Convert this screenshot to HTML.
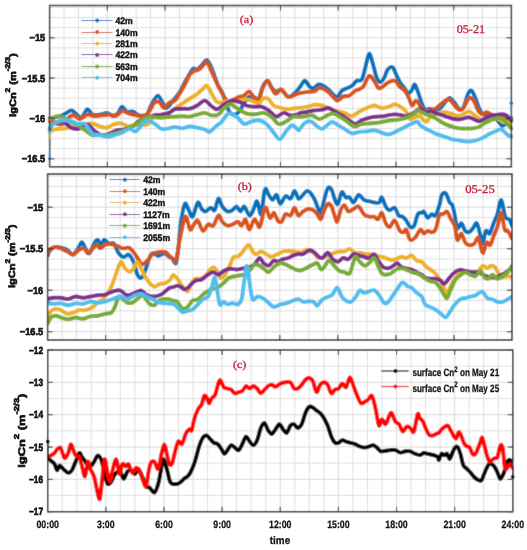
<!DOCTYPE html>
<html><head><meta charset="utf-8"><title>Cn2 time series</title>
<style>html,body{margin:0;padding:0;background:#fff;}body{width:527px;height:550px;overflow:hidden;}svg{display:block;}</style>
</head><body>
<svg width="527" height="550" viewBox="0 0 527 550">
<style>
.gm{stroke:#dedede;stroke-width:1}
.gM{stroke:#d8d8d8;stroke-width:1}
.fr{fill:none;stroke:#262626;stroke-width:1.5}
.tk{stroke:#262626;stroke-width:1.1}
text{text-rendering:geometricPrecision;font-family:"Liberation Sans",Arial,sans-serif;font-weight:bold;fill:#111;stroke:#111;stroke-width:0.65}
.lg{stroke-width:0.4}
.lt{stroke-width:0.25}
.ann{font-family:"Liberation Serif","Times New Roman",serif;font-weight:normal;fill:#c41e3a;stroke:#c41e3a;stroke-width:0.3}
</style>
<rect width="527" height="550" fill="#fff"/>
<filter id="bl" filterUnits="userSpaceOnUse" x="0" y="0" width="527" height="550"><feConvolveMatrix order="3" kernelMatrix="0.0144 0.0912 0.0144 0.0912 0.5776 0.0912 0.0144 0.0912 0.0144" edgeMode="duplicate" preserveAlpha="true"/></filter><g filter="url(#bl)"><rect width="527" height="550" fill="#fff"/>
<line x1="64.03" y1="5.50" x2="64.03" y2="166.80" class="gm"/>
<line x1="78.46" y1="5.50" x2="78.46" y2="166.80" class="gm"/>
<line x1="92.89" y1="5.50" x2="92.89" y2="166.80" class="gm"/>
<line x1="107.32" y1="5.50" x2="107.32" y2="166.80" class="gM"/>
<line x1="121.76" y1="5.50" x2="121.76" y2="166.80" class="gm"/>
<line x1="136.19" y1="5.50" x2="136.19" y2="166.80" class="gm"/>
<line x1="150.62" y1="5.50" x2="150.62" y2="166.80" class="gm"/>
<line x1="165.05" y1="5.50" x2="165.05" y2="166.80" class="gM"/>
<line x1="179.48" y1="5.50" x2="179.48" y2="166.80" class="gm"/>
<line x1="193.91" y1="5.50" x2="193.91" y2="166.80" class="gm"/>
<line x1="208.34" y1="5.50" x2="208.34" y2="166.80" class="gm"/>
<line x1="222.77" y1="5.50" x2="222.77" y2="166.80" class="gM"/>
<line x1="237.21" y1="5.50" x2="237.21" y2="166.80" class="gm"/>
<line x1="251.64" y1="5.50" x2="251.64" y2="166.80" class="gm"/>
<line x1="266.07" y1="5.50" x2="266.07" y2="166.80" class="gm"/>
<line x1="280.50" y1="5.50" x2="280.50" y2="166.80" class="gM"/>
<line x1="294.93" y1="5.50" x2="294.93" y2="166.80" class="gm"/>
<line x1="309.36" y1="5.50" x2="309.36" y2="166.80" class="gm"/>
<line x1="323.79" y1="5.50" x2="323.79" y2="166.80" class="gm"/>
<line x1="338.23" y1="5.50" x2="338.23" y2="166.80" class="gM"/>
<line x1="352.66" y1="5.50" x2="352.66" y2="166.80" class="gm"/>
<line x1="367.09" y1="5.50" x2="367.09" y2="166.80" class="gm"/>
<line x1="381.52" y1="5.50" x2="381.52" y2="166.80" class="gm"/>
<line x1="395.95" y1="5.50" x2="395.95" y2="166.80" class="gM"/>
<line x1="410.38" y1="5.50" x2="410.38" y2="166.80" class="gm"/>
<line x1="424.81" y1="5.50" x2="424.81" y2="166.80" class="gm"/>
<line x1="439.24" y1="5.50" x2="439.24" y2="166.80" class="gm"/>
<line x1="453.67" y1="5.50" x2="453.67" y2="166.80" class="gM"/>
<line x1="468.11" y1="5.50" x2="468.11" y2="166.80" class="gm"/>
<line x1="482.54" y1="5.50" x2="482.54" y2="166.80" class="gm"/>
<line x1="496.97" y1="5.50" x2="496.97" y2="166.80" class="gm"/>
<line x1="49.60" y1="158.73" x2="511.40" y2="158.73" class="gM"/>
<line x1="49.60" y1="148.65" x2="511.40" y2="148.65" class="gm"/>
<line x1="49.60" y1="138.57" x2="511.40" y2="138.57" class="gm"/>
<line x1="49.60" y1="128.49" x2="511.40" y2="128.49" class="gm"/>
<line x1="49.60" y1="118.41" x2="511.40" y2="118.41" class="gM"/>
<line x1="49.60" y1="108.33" x2="511.40" y2="108.33" class="gm"/>
<line x1="49.60" y1="98.25" x2="511.40" y2="98.25" class="gm"/>
<line x1="49.60" y1="88.17" x2="511.40" y2="88.17" class="gm"/>
<line x1="49.60" y1="78.08" x2="511.40" y2="78.08" class="gM"/>
<line x1="49.60" y1="68.00" x2="511.40" y2="68.00" class="gm"/>
<line x1="49.60" y1="57.92" x2="511.40" y2="57.92" class="gm"/>
<line x1="49.60" y1="47.84" x2="511.40" y2="47.84" class="gm"/>
<line x1="49.60" y1="37.76" x2="511.40" y2="37.76" class="gM"/>
<line x1="49.60" y1="27.68" x2="511.40" y2="27.68" class="gm"/>
<line x1="49.60" y1="17.60" x2="511.40" y2="17.60" class="gm"/>
<line x1="49.60" y1="7.52" x2="511.40" y2="7.52" class="gm"/>
<defs><clipPath id="ca"><rect x="47.6" y="5.5" width="465.8" height="161.3"/></clipPath><clipPath id="cb"><rect x="47.6" y="174" width="464.4" height="166"/></clipPath><clipPath id="cc"><rect x="47.7" y="350" width="465.1" height="161.7"/></clipPath></defs>
<line x1="81.60" y1="20.50" x2="112.50" y2="20.50" stroke="#0072BD" stroke-width="1.00"/>
<circle cx="97.20" cy="20.60" r="2.00" fill="#0072BD"/>
<line x1="81.60" y1="32.50" x2="112.50" y2="32.50" stroke="#D95319" stroke-width="1.00"/>
<circle cx="97.20" cy="32.05" r="2.00" fill="#D95319"/>
<line x1="81.60" y1="43.50" x2="112.50" y2="43.50" stroke="#EDB120" stroke-width="1.00"/>
<circle cx="97.20" cy="43.50" r="2.00" fill="#EDB120"/>
<line x1="81.60" y1="54.50" x2="112.50" y2="54.50" stroke="#7E2F8E" stroke-width="1.00"/>
<circle cx="97.20" cy="54.95" r="2.00" fill="#7E2F8E"/>
<line x1="81.60" y1="66.50" x2="112.50" y2="66.50" stroke="#77AC30" stroke-width="1.00"/>
<circle cx="97.20" cy="66.40" r="2.00" fill="#77AC30"/>
<line x1="81.60" y1="77.50" x2="112.50" y2="77.50" stroke="#4DBEEE" stroke-width="1.00"/>
<circle cx="97.20" cy="77.85" r="2.00" fill="#4DBEEE"/>
<g clip-path="url(#ca)">
<path d="M49.6,118.5 C50.2,118.4 51.2,118.2 53.0,117.8 C54.8,117.4 58.0,116.8 60.3,116.0 C62.5,115.2 64.7,113.8 66.5,112.9 C68.3,112.0 69.8,110.2 71.4,110.4 C73.1,110.6 74.8,112.9 76.4,114.1 C78.1,115.3 79.5,118.6 81.3,117.8 C83.1,117.0 85.7,109.7 87.5,109.2 C89.3,108.7 90.4,113.7 92.4,114.6 C94.5,115.5 97.3,114.9 99.8,114.6 C102.3,114.3 104.9,112.7 107.2,112.9 C109.5,113.2 111.6,116.1 113.4,116.1 C115.2,116.1 116.9,114.5 118.3,112.9 C119.7,111.3 120.5,106.9 122.0,106.7 C123.5,106.5 125.2,110.9 127.0,111.7 C128.8,112.5 131.0,111.1 133.1,111.7 C135.2,112.3 137.0,114.9 139.3,115.4 C141.6,115.9 144.6,116.4 146.7,114.6 C148.8,112.8 149.8,107.5 151.6,104.3 C153.4,101.1 156.0,95.8 157.8,95.6 C159.7,95.4 161.3,100.9 162.7,103.0 C164.1,105.1 165.0,108.0 166.4,108.0 C167.8,108.0 169.9,104.7 171.3,103.0 C172.7,101.3 173.6,99.9 175.0,98.1 C176.4,96.2 178.2,94.6 179.9,91.9 C181.6,89.2 183.2,85.2 184.9,82.1 C186.6,79.0 188.4,75.7 189.8,73.4 C191.2,71.1 192.3,69.1 193.5,68.5 C194.7,67.9 195.8,70.3 197.2,69.7 C198.6,69.1 200.5,66.4 202.1,64.8 C203.7,63.2 205.1,59.7 206.6,59.9 C208.1,60.1 209.5,63.3 210.8,66.0 C212.1,68.7 213.3,72.6 214.5,75.9 C215.7,79.2 217.0,83.1 218.2,85.8 C219.4,88.5 220.7,89.2 221.9,91.9 C223.1,94.6 224.4,98.5 225.6,101.8 C226.8,105.1 227.9,109.6 229.3,111.7 C230.7,113.8 232.6,114.6 234.2,114.6 C235.8,114.6 237.4,113.6 239.1,111.7 C240.8,109.8 242.4,105.5 244.1,103.0 C245.8,100.5 247.4,97.7 249.0,96.9 C250.6,96.1 252.2,97.9 253.9,98.1 C255.6,98.3 257.4,99.9 258.9,98.1 C260.3,96.2 261.2,89.9 262.6,87.0 C264.0,84.1 266.1,80.8 267.5,80.8 C268.9,80.8 269.8,85.2 271.2,87.0 C272.6,88.8 274.5,91.5 276.1,91.9 C277.8,92.3 279.0,88.7 281.1,89.5 C283.2,90.3 286.0,96.5 288.5,96.9 C291.0,97.3 293.8,93.8 295.9,91.9 C297.9,90.1 299.3,87.7 300.8,85.8 C302.3,83.9 303.4,80.6 304.9,80.8 C306.4,81.0 308.4,85.8 309.9,87.0 C311.3,88.2 312.2,88.6 313.6,88.2 C315.0,87.8 316.9,84.9 318.5,84.5 C320.1,84.1 321.8,85.0 323.4,85.8 C325.0,86.6 326.9,88.3 328.4,89.5 C329.8,90.7 330.7,92.0 332.1,93.2 C333.5,94.4 335.4,97.3 337.0,96.9 C338.6,96.5 340.2,92.2 341.9,90.7 C343.5,89.2 345.2,89.0 346.9,88.2 C348.5,87.4 350.2,87.0 351.8,85.8 C353.4,84.6 355.1,81.8 356.7,80.8 C358.3,79.8 360.2,81.8 361.7,79.6 C363.1,77.3 364.2,71.6 365.4,67.3 C366.6,63.0 367.9,54.3 369.1,53.7 C370.3,53.1 371.6,59.7 372.8,63.6 C374.0,67.5 375.3,74.0 376.5,77.1 C377.7,80.2 379.0,81.9 380.2,82.1 C381.4,82.3 382.7,80.5 383.9,78.4 C385.1,76.3 386.2,71.6 387.6,69.7 C389.0,67.8 391.1,66.5 392.5,67.3 C393.9,68.1 395.0,72.2 396.2,74.7 C397.4,77.2 398.7,80.0 399.9,82.1 C401.1,84.1 402.2,85.2 403.6,87.0 C405.0,88.8 407.1,92.8 408.5,93.2 C409.9,93.6 411.2,91.0 412.2,89.5 C413.2,88.0 413.7,83.9 414.7,84.5 C415.7,85.1 417.2,89.9 418.4,93.2 C419.6,96.5 420.9,101.4 422.1,104.3 C423.3,107.2 424.7,109.7 425.8,110.4 C426.9,111.1 427.6,108.8 429.0,108.7 C430.4,108.6 432.6,109.6 434.4,109.6 C436.2,109.6 438.0,109.9 439.8,108.7 C441.6,107.5 443.6,104.2 445.2,102.4 C446.8,100.6 448.2,97.9 449.7,97.9 C451.2,97.9 452.8,100.7 454.3,102.4 C455.8,104.1 457.3,107.4 458.8,108.3 C460.3,109.2 461.8,110.1 463.3,107.8 C464.8,105.5 466.5,97.2 467.8,94.3 C469.1,91.4 470.2,90.1 471.4,90.6 C472.6,91.0 473.8,94.3 475.0,97.0 C476.2,99.7 477.4,104.1 478.6,106.9 C479.8,109.8 480.9,112.9 482.2,114.1 C483.5,115.3 485.0,113.9 486.7,114.1 C488.4,114.2 490.3,114.0 492.1,115.0 C493.9,116.0 495.9,118.6 497.5,120.4 C499.1,122.2 500.6,125.2 502.0,125.8 C503.4,126.4 504.4,125.0 505.6,124.0 C506.8,123.0 508.2,120.5 509.2,119.5 C510.2,118.5 511.0,118.2 511.4,118.0" fill="none" stroke="#0072BD" stroke-width="3.90" stroke-linejoin="round" stroke-linecap="round"/>
<path d="M49.6,119.8 C50.2,120.1 51.7,120.8 53.0,121.5 C54.3,122.2 55.9,123.6 57.5,124.0 C59.1,124.4 61.3,124.7 62.8,124.0 C64.3,123.3 65.3,121.2 66.5,120.0 C67.7,118.8 68.7,117.3 70.0,116.5 C71.3,115.7 72.8,115.0 74.5,115.4 C76.2,115.8 77.8,119.1 80.0,119.0 C82.2,118.9 85.0,115.1 87.5,114.6 C90.0,114.1 92.4,116.0 94.9,116.1 C97.4,116.2 99.8,115.7 102.3,115.4 C104.8,115.2 107.2,114.6 109.7,114.6 C112.2,114.6 115.0,116.0 117.0,115.4 C119.0,114.8 119.9,111.5 122.0,111.2 C124.1,110.9 126.9,112.9 129.4,113.6 C131.9,114.3 134.3,115.0 136.8,115.4 C139.3,115.8 142.1,116.7 144.2,116.1 C146.2,115.5 147.4,113.9 149.1,111.7 C150.8,109.5 152.4,104.7 154.1,103.0 C155.8,101.3 157.3,101.0 159.0,101.8 C160.7,102.6 162.3,107.8 164.0,108.0 C165.7,108.2 167.1,104.2 168.9,103.0 C170.7,101.8 173.2,102.2 175.0,100.6 C176.8,99.0 178.2,95.9 179.9,93.2 C181.6,90.5 183.2,87.6 184.9,84.5 C186.6,81.4 188.2,77.0 189.8,74.7 C191.4,72.5 193.0,71.9 194.7,71.0 C196.3,70.1 198.0,70.4 199.7,69.2 C201.3,68.0 203.4,64.8 204.6,63.6 C205.8,62.5 206.1,61.3 207.1,62.3 C208.1,63.3 209.4,66.6 210.8,69.7 C212.2,72.8 214.3,77.7 215.7,80.8 C217.1,83.9 218.0,85.5 219.4,88.2 C220.8,90.9 222.9,94.6 224.3,96.9 C225.7,99.2 226.3,101.4 228.0,101.8 C229.7,102.2 232.3,100.1 234.2,99.3 C236.0,98.5 237.4,97.5 239.1,96.9 C240.8,96.3 242.4,96.5 244.1,95.6 C245.8,94.7 247.4,91.2 249.0,91.4 C250.6,91.6 252.2,95.6 253.9,96.9 C255.6,98.2 257.4,100.8 258.9,99.3 C260.3,97.8 261.2,91.3 262.6,88.2 C264.0,85.1 265.9,80.6 267.5,80.8 C269.1,81.0 271.0,87.3 272.4,89.5 C273.8,91.7 274.7,93.9 276.1,93.9 C277.6,93.9 279.0,89.0 281.1,89.5 C283.2,90.0 286.0,96.1 288.5,96.9 C291.0,97.7 294.0,95.0 295.9,94.4 C297.8,93.8 298.1,93.6 300.0,93.2 C301.9,92.8 304.9,92.2 307.4,91.9 C309.9,91.6 312.9,92.0 314.8,91.4 C316.7,90.8 316.9,88.5 318.5,88.2 C320.1,87.9 322.8,88.7 324.7,89.5 C326.6,90.3 327.6,91.4 329.6,93.2 C331.7,95.0 334.7,100.1 337.0,100.6 C339.3,101.1 341.1,97.2 343.2,96.4 C345.2,95.6 347.2,96.5 349.3,95.6 C351.4,94.6 353.2,92.1 355.5,90.7 C357.8,89.3 360.6,89.5 362.9,87.0 C365.2,84.5 367.2,76.9 369.1,75.9 C371.0,74.9 372.4,78.8 374.0,80.8 C375.6,82.8 377.2,87.4 378.9,88.2 C380.5,89.0 382.2,86.8 383.9,85.8 C385.5,84.8 386.9,82.9 388.8,82.1 C390.7,81.3 393.1,80.0 395.0,80.8 C396.9,81.6 398.3,85.3 399.9,87.0 C401.5,88.7 403.4,89.0 404.8,90.7 C406.2,92.4 407.3,94.4 408.5,96.9 C409.7,99.4 411.0,104.9 412.2,105.5 C413.4,106.1 414.4,100.4 415.9,100.6 C417.3,100.8 419.6,105.0 420.9,106.7 C422.2,108.4 422.2,109.9 423.6,110.5 C425.0,111.1 427.2,110.7 429.0,110.5 C430.8,110.3 432.6,110.5 434.4,109.6 C436.2,108.7 438.0,106.6 439.8,105.1 C441.6,103.6 443.6,101.5 445.2,100.6 C446.8,99.7 448.2,99.0 449.7,99.7 C451.2,100.5 452.8,103.4 454.3,105.1 C455.8,106.8 457.3,109.1 458.8,109.6 C460.3,110.1 461.8,109.9 463.3,108.3 C464.8,106.7 466.5,101.4 467.8,99.7 C469.1,98.0 470.2,97.3 471.4,97.9 C472.6,98.5 473.8,101.0 475.0,103.3 C476.2,105.5 477.4,109.6 478.6,111.4 C479.8,113.2 480.9,113.9 482.2,114.1 C483.5,114.2 485.0,112.1 486.7,112.3 C488.4,112.5 490.3,114.4 492.1,115.0 C493.9,115.6 495.7,115.5 497.5,115.9 C499.3,116.4 501.1,116.8 502.9,117.7 C504.7,118.6 506.9,121.0 508.3,121.3 C509.7,121.6 510.9,119.8 511.4,119.5" fill="none" stroke="#D95319" stroke-width="3.90" stroke-linejoin="round" stroke-linecap="round"/>
<path d="M49.6,131.4 C50.6,131.1 52.8,129.9 55.4,129.4 C58.0,128.9 62.0,128.8 65.3,128.4 C68.6,128.0 71.8,127.7 75.1,127.0 C78.4,126.3 82.1,124.6 85.0,124.0 C87.9,123.4 89.9,123.1 92.4,123.5 C94.9,123.9 97.3,125.8 99.8,126.5 C102.3,127.2 105.2,128.0 107.2,127.7 C109.2,127.5 110.0,125.8 112.0,125.0 C114.0,124.2 117.4,123.3 119.4,123.2 C121.5,123.1 122.9,124.0 124.3,124.5 C125.7,125.0 126.4,126.1 128.0,126.3 C129.6,126.5 132.0,125.7 134.0,125.5 C136.0,125.3 138.1,125.1 140.0,125.0 C141.9,124.9 143.9,125.2 145.3,125.0 C146.7,124.8 147.3,124.7 148.5,123.5 C149.7,122.3 151.4,119.1 152.7,117.6 C154.0,116.1 154.9,114.7 156.4,114.5 C157.9,114.3 159.8,116.4 161.4,116.4 C163.1,116.4 164.7,115.3 166.3,114.5 C168.0,113.7 169.9,112.5 171.3,111.5 C172.8,110.5 173.2,109.8 175.0,108.5 C176.8,107.2 179.9,105.2 182.4,103.5 C184.9,101.8 187.3,100.1 189.8,98.5 C192.3,96.9 194.9,95.7 197.2,94.0 C199.5,92.3 201.8,89.6 203.4,88.2 C205.1,86.8 205.7,84.8 207.1,85.8 C208.5,86.8 210.4,91.7 212.0,94.4 C213.6,97.1 215.2,100.5 216.9,101.8 C218.6,103.1 219.8,102.5 221.9,102.3 C224.0,102.1 226.8,100.7 229.3,100.6 C231.8,100.5 234.2,102.0 236.7,101.8 C239.2,101.6 241.6,99.5 244.1,99.3 C246.6,99.1 249.0,100.0 251.5,100.6 C254.0,101.2 256.8,103.4 258.9,103.0 C260.9,102.6 262.2,98.7 263.8,98.1 C265.4,97.5 267.1,98.1 268.7,99.3 C270.3,100.5 271.6,104.0 273.7,105.5 C275.8,107.0 278.6,107.4 281.1,108.0 C283.6,108.6 286.0,109.2 288.5,109.2 C291.0,109.2 294.0,108.2 295.9,108.0 C297.8,107.8 298.1,108.2 300.0,108.0 C301.9,107.8 304.9,107.2 307.4,106.7 C309.9,106.2 312.3,105.0 314.8,104.8 C317.3,104.6 319.7,104.8 322.2,105.5 C324.7,106.2 327.1,107.8 329.6,108.7 C332.1,109.7 334.5,110.5 337.0,111.2 C339.5,111.9 341.9,112.1 344.4,112.9 C346.9,113.7 349.3,116.3 351.8,116.1 C354.3,115.9 356.7,113.0 359.2,111.7 C361.7,110.4 364.1,109.0 366.6,108.0 C369.1,107.0 371.5,105.5 374.0,105.5 C376.5,105.5 378.9,107.8 381.4,108.0 C383.9,108.2 386.5,107.3 388.8,106.7 C391.1,106.1 392.9,104.2 395.0,104.3 C397.1,104.4 399.2,106.0 401.1,107.2 C403.0,108.4 404.7,109.7 406.1,111.7 C407.6,113.7 408.2,118.3 409.8,119.1 C411.4,119.9 414.2,117.1 415.9,116.6 C417.6,116.1 418.7,115.3 420.0,115.9 C421.3,116.5 422.4,119.5 423.6,120.4 C424.8,121.3 426.0,122.0 427.2,121.3 C428.4,120.5 429.3,117.1 430.8,115.9 C432.3,114.7 434.4,114.7 436.2,114.1 C438.0,113.5 439.8,112.6 441.6,112.3 C443.4,112.0 445.2,112.0 447.0,112.3 C448.8,112.6 450.6,113.5 452.4,114.1 C454.2,114.7 456.1,115.9 457.9,115.9 C459.7,115.9 461.5,114.8 463.3,114.1 C465.1,113.3 467.1,111.4 468.7,111.4 C470.3,111.4 471.7,113.0 473.2,114.1 C474.7,115.1 476.0,116.8 477.7,117.7 C479.4,118.6 481.3,119.5 483.1,119.5 C484.9,119.5 486.7,118.2 488.5,117.7 C490.3,117.2 492.1,116.5 493.9,116.8 C495.7,117.1 497.5,118.6 499.3,119.5 C501.1,120.4 502.7,121.9 504.7,122.2 C506.7,122.5 510.3,121.5 511.4,121.3" fill="none" stroke="#EDB120" stroke-width="3.90" stroke-linejoin="round" stroke-linecap="round"/>
<path d="M49.6,129.0 C50.2,128.2 51.2,125.2 53.0,124.0 C54.8,122.8 58.0,121.5 60.3,121.5 C62.5,121.5 64.4,122.8 66.5,124.0 C68.6,125.2 70.5,127.7 72.7,128.4 C75.0,129.1 77.5,129.1 80.0,128.4 C82.5,127.8 85.0,124.0 87.5,124.5 C90.0,125.0 92.4,129.6 94.9,131.4 C97.4,133.2 99.8,134.8 102.3,135.1 C104.8,135.4 107.2,134.2 109.7,133.4 C112.2,132.6 114.5,130.9 117.0,130.2 C119.5,129.5 122.0,130.0 124.5,129.4 C127.0,128.8 129.4,127.9 131.9,126.5 C134.4,125.1 136.8,122.5 139.3,121.0 C141.8,119.5 144.2,118.7 146.7,117.8 C149.2,116.9 151.6,115.9 154.1,115.4 C156.6,114.9 159.0,115.0 161.5,114.6 C164.0,114.2 166.7,113.8 168.9,112.9 C171.2,112.0 172.8,109.9 175.0,109.2 C177.2,108.5 179.9,108.8 182.4,108.7 C184.9,108.6 187.3,109.2 189.8,108.7 C192.3,108.2 194.7,106.8 197.2,105.5 C199.7,104.2 202.3,100.6 204.6,100.6 C206.9,100.6 208.8,104.1 210.8,105.5 C212.9,106.9 214.7,109.4 216.9,109.2 C219.2,109.0 221.8,105.7 224.3,104.3 C226.8,102.9 229.2,101.0 231.7,100.6 C234.2,100.2 236.6,101.0 239.1,101.8 C241.6,102.6 244.0,104.7 246.5,105.5 C249.0,106.3 251.4,106.5 253.9,106.7 C256.4,106.9 258.8,106.1 261.3,106.7 C263.8,107.3 266.2,108.8 268.7,110.4 C271.2,112.1 273.6,116.2 276.1,116.6 C278.6,117.0 281.0,113.1 283.5,112.9 C286.0,112.7 288.4,115.2 290.9,115.4 C293.4,115.6 296.8,114.5 298.3,114.1 C299.8,113.7 298.5,113.3 300.0,112.9 C301.5,112.5 304.9,112.1 307.4,111.7 C309.9,111.3 312.3,110.7 314.8,110.4 C317.3,110.1 319.9,110.1 322.2,109.7 C324.5,109.3 326.3,107.8 328.4,108.0 C330.4,108.2 332.2,110.0 334.5,111.2 C336.8,112.4 339.4,113.9 341.9,115.4 C344.4,116.9 347.0,118.9 349.3,120.3 C351.6,121.7 353.4,124.0 355.5,124.0 C357.6,124.0 359.4,121.3 361.7,120.3 C364.0,119.3 366.6,118.4 369.1,117.8 C371.6,117.2 374.0,116.9 376.5,116.6 C379.0,116.3 381.4,116.4 383.9,116.1 C386.4,115.8 388.8,114.8 391.3,114.6 C393.8,114.3 396.2,114.3 398.7,114.6 C401.2,114.8 403.6,116.4 406.1,116.1 C408.6,115.8 411.2,114.1 413.5,112.9 C415.8,111.7 418.0,108.8 420.0,108.7 C422.0,108.6 423.6,111.8 425.4,112.3 C427.2,112.8 429.0,111.2 430.8,111.4 C432.6,111.6 434.4,112.6 436.2,113.2 C438.0,113.8 439.8,114.4 441.6,115.0 C443.4,115.6 445.2,116.2 447.0,116.8 C448.8,117.4 450.6,118.1 452.4,118.6 C454.2,119.0 456.1,119.5 457.9,119.5 C459.7,119.5 461.5,119.0 463.3,118.6 C465.1,118.2 466.9,117.1 468.7,117.3 C470.5,117.5 472.3,118.8 474.1,119.5 C475.9,120.2 477.7,121.5 479.5,121.3 C481.3,121.1 483.1,119.5 484.9,118.6 C486.7,117.7 488.5,116.5 490.3,115.9 C492.1,115.3 493.9,115.3 495.7,115.0 C497.5,114.7 499.5,114.1 501.1,114.1 C502.8,114.1 503.9,114.0 505.6,115.0 C507.3,116.0 510.4,119.5 511.4,120.4" fill="none" stroke="#7E2F8E" stroke-width="3.90" stroke-linejoin="round" stroke-linecap="round"/>
<path d="M49.6,121.5 C50.2,120.9 51.6,118.7 53.0,117.8 C54.4,116.9 56.3,116.2 57.9,116.1 C59.5,116.0 60.8,116.1 62.8,117.0 C64.8,117.9 67.7,120.1 70.2,121.5 C72.7,122.9 75.1,123.8 77.6,125.2 C80.1,126.7 82.5,128.5 85.0,130.2 C87.5,131.8 89.9,134.3 92.4,135.1 C94.9,135.9 97.3,135.1 99.8,135.1 C102.3,135.1 104.7,135.4 107.2,135.1 C109.7,134.8 112.1,134.0 114.6,133.4 C117.1,132.8 119.5,132.3 122.0,131.4 C124.5,130.5 126.9,128.9 129.4,127.7 C131.9,126.5 134.3,125.5 136.8,124.0 C139.3,122.5 141.7,119.8 144.2,118.6 C146.7,117.4 149.1,117.1 151.6,117.0 C154.1,116.9 156.1,117.8 159.0,117.8 C161.9,117.8 166.2,117.2 168.9,117.0 C171.6,116.8 172.8,116.8 175.0,116.6 C177.2,116.4 179.9,116.1 182.4,116.1 C184.9,116.1 187.3,116.8 189.8,116.6 C192.3,116.3 194.7,115.2 197.2,114.6 C199.7,114.0 202.1,112.8 204.6,112.9 C207.1,113.0 209.7,115.1 212.0,115.4 C214.3,115.7 216.1,115.8 218.2,114.6 C220.2,113.4 222.2,109.7 224.3,108.0 C226.4,106.3 228.4,104.3 230.5,104.3 C232.6,104.3 234.6,106.8 236.7,108.0 C238.8,109.2 240.8,110.7 242.8,111.7 C244.9,112.7 246.7,113.7 249.0,114.1 C251.3,114.5 253.9,114.3 256.4,114.1 C258.9,113.9 261.3,112.5 263.8,112.9 C266.3,113.3 268.7,114.8 271.2,116.6 C273.7,118.4 276.1,123.2 278.6,124.0 C281.1,124.8 283.5,122.7 286.0,121.5 C288.5,120.3 291.1,117.3 293.4,116.6 C295.7,115.8 298.1,117.1 300.0,117.0 C301.9,116.9 302.8,116.4 304.9,116.1 C306.9,115.8 309.8,114.9 312.3,115.4 C314.8,115.9 317.2,119.1 319.7,119.1 C322.2,119.1 324.8,116.3 327.1,115.4 C329.4,114.5 331.2,113.4 333.3,113.6 C335.4,113.8 337.2,115.3 339.5,116.6 C341.8,117.9 344.4,119.8 346.9,121.5 C349.4,123.2 351.8,126.1 354.3,126.5 C356.8,126.9 359.2,124.5 361.7,124.0 C364.2,123.5 366.6,123.7 369.1,123.5 C371.6,123.3 374.0,123.1 376.5,122.8 C379.0,122.5 381.4,121.9 383.9,121.5 C386.4,121.1 388.8,120.6 391.3,120.3 C393.8,120.0 396.2,120.0 398.7,119.6 C401.2,119.2 403.6,118.7 406.1,117.8 C408.6,116.9 411.4,115.3 413.5,114.1 C415.6,112.9 417.3,110.9 418.4,110.4 C419.5,110.0 418.8,110.8 420.0,111.4 C421.2,112.0 423.6,113.3 425.4,114.1 C427.2,114.8 429.0,115.2 430.8,115.9 C432.6,116.7 434.4,117.5 436.2,118.6 C438.0,119.6 439.8,121.2 441.6,122.2 C443.4,123.2 445.2,124.2 447.0,124.9 C448.8,125.7 450.6,126.2 452.4,126.7 C454.2,127.2 456.1,127.8 457.9,128.1 C459.7,128.4 461.5,128.4 463.3,128.5 C465.1,128.6 466.9,128.6 468.7,128.5 C470.5,128.4 472.3,128.4 474.1,128.1 C475.9,127.8 477.7,127.5 479.5,126.7 C481.3,125.9 483.1,124.1 484.9,123.1 C486.7,122.0 488.5,121.2 490.3,120.4 C492.1,119.7 494.1,119.0 495.7,118.6 C497.3,118.2 498.7,117.7 500.2,118.0 C501.7,118.3 503.3,119.2 504.7,120.4 C506.1,121.6 507.2,123.6 508.3,124.9 C509.4,126.2 510.9,127.9 511.4,128.5" fill="none" stroke="#77AC30" stroke-width="3.90" stroke-linejoin="round" stroke-linecap="round"/>
<path d="M49.6,128.0 C50.0,127.5 50.6,126.3 52.0,125.2 C53.4,124.1 55.7,122.3 57.9,121.5 C60.1,120.7 62.8,120.3 65.3,120.3 C67.8,120.3 70.7,120.9 72.7,121.5 C74.8,122.1 75.5,123.6 77.6,124.0 C79.6,124.4 82.5,122.3 85.0,124.0 C87.5,125.7 89.9,132.1 92.4,133.9 C94.9,135.8 97.3,134.6 99.8,135.1 C102.3,135.6 104.7,136.8 107.2,136.8 C109.7,136.8 112.1,135.8 114.6,135.1 C117.1,134.4 119.5,133.6 122.0,132.6 C124.5,131.6 127.1,129.1 129.4,128.9 C131.7,128.7 133.6,132.0 135.6,131.4 C137.6,130.8 139.8,127.1 141.7,125.2 C143.5,123.3 145.0,120.8 146.7,120.3 C148.3,119.8 150.0,121.2 151.6,122.0 C153.2,122.8 154.8,124.0 156.5,125.2 C158.2,126.4 159.4,128.4 161.5,128.9 C163.6,129.4 166.7,128.7 168.9,128.4 C171.2,128.1 172.8,127.0 175.0,127.0 C177.2,127.0 179.9,128.5 182.4,128.4 C184.9,128.3 187.3,126.6 189.8,126.5 C192.3,126.4 194.7,127.2 197.2,127.7 C199.7,128.2 202.5,128.7 204.6,129.4 C206.7,130.1 207.7,132.4 209.5,131.9 C211.3,131.4 213.6,128.2 215.7,126.5 C217.8,124.8 219.8,123.7 221.9,121.5 C224.0,119.3 226.2,114.8 228.0,113.6 C229.8,112.4 231.3,113.9 233.0,114.6 C234.7,115.3 236.1,116.2 237.9,117.8 C239.8,119.4 241.8,123.4 244.1,124.0 C246.4,124.6 249.0,122.1 251.5,121.5 C254.0,120.9 256.4,119.9 258.9,120.3 C261.4,120.7 263.8,122.0 266.3,124.0 C268.8,126.0 271.4,130.0 273.7,132.6 C275.9,135.2 277.8,139.5 279.8,139.3 C281.9,139.1 283.9,133.8 286.0,131.4 C288.1,129.1 290.1,125.4 292.2,125.2 C294.2,125.0 297.0,129.6 298.3,130.2 C299.6,130.8 298.9,130.1 300.0,128.9 C301.1,127.7 303.0,124.0 304.9,122.8 C306.8,121.6 309.0,120.9 311.1,121.5 C313.2,122.1 315.5,125.3 317.3,126.5 C319.1,127.7 320.6,129.1 322.2,128.9 C323.8,128.7 325.5,126.4 327.1,125.2 C328.8,124.0 330.2,122.0 332.1,122.0 C334.0,122.0 336.1,124.0 338.2,125.2 C340.2,126.4 342.1,127.5 344.4,128.9 C346.7,130.3 349.3,132.9 351.8,133.4 C354.3,133.9 356.7,132.2 359.2,131.9 C361.7,131.6 364.1,131.7 366.6,131.4 C369.1,131.1 371.5,130.0 374.0,130.2 C376.5,130.4 378.9,131.9 381.4,132.6 C383.9,133.3 386.3,134.6 388.8,134.4 C391.3,134.2 393.7,132.5 396.2,131.4 C398.7,130.3 401.1,128.9 403.6,127.7 C406.1,126.5 408.7,125.0 411.0,124.0 C413.3,123.0 415.7,121.3 417.2,121.5 C418.7,121.7 418.6,123.7 420.0,124.9 C421.4,126.1 423.6,127.5 425.4,128.5 C427.2,129.6 429.0,130.3 430.8,131.2 C432.6,132.1 434.4,133.2 436.2,133.9 C438.0,134.7 439.8,135.1 441.6,135.7 C443.4,136.3 445.2,136.9 447.0,137.5 C448.8,138.1 450.6,138.9 452.4,139.3 C454.2,139.8 456.1,139.9 457.9,140.2 C459.7,140.5 461.5,140.9 463.3,141.1 C465.1,141.3 466.9,141.6 468.7,141.5 C470.5,141.4 472.3,141.2 474.1,140.8 C475.9,140.4 477.7,140.0 479.5,139.3 C481.3,138.6 483.1,137.6 484.9,136.6 C486.7,135.6 488.5,134.5 490.3,133.6 C492.1,132.7 494.1,131.9 495.7,131.2 C497.3,130.5 498.8,129.4 500.2,129.4 C501.6,129.4 502.6,130.3 503.8,131.2 C505.0,132.1 506.1,133.9 507.4,134.8 C508.7,135.7 510.7,136.3 511.4,136.6" fill="none" stroke="#4DBEEE" stroke-width="3.90" stroke-linejoin="round" stroke-linecap="round"/>
</g>
<rect x="49.60" y="5.50" width="461.80" height="161.30" class="fr"/>
<line x1="107.32" y1="5.50" x2="107.32" y2="10.50" class="tk"/>
<line x1="107.32" y1="166.80" x2="107.32" y2="161.80" class="tk"/>
<line x1="165.05" y1="5.50" x2="165.05" y2="10.50" class="tk"/>
<line x1="165.05" y1="166.80" x2="165.05" y2="161.80" class="tk"/>
<line x1="222.77" y1="5.50" x2="222.77" y2="10.50" class="tk"/>
<line x1="222.77" y1="166.80" x2="222.77" y2="161.80" class="tk"/>
<line x1="280.50" y1="5.50" x2="280.50" y2="10.50" class="tk"/>
<line x1="280.50" y1="166.80" x2="280.50" y2="161.80" class="tk"/>
<line x1="338.23" y1="5.50" x2="338.23" y2="10.50" class="tk"/>
<line x1="338.23" y1="166.80" x2="338.23" y2="161.80" class="tk"/>
<line x1="395.95" y1="5.50" x2="395.95" y2="10.50" class="tk"/>
<line x1="395.95" y1="166.80" x2="395.95" y2="161.80" class="tk"/>
<line x1="453.67" y1="5.50" x2="453.67" y2="10.50" class="tk"/>
<line x1="453.67" y1="166.80" x2="453.67" y2="161.80" class="tk"/>
<line x1="49.60" y1="37.76" x2="54.60" y2="37.76" class="tk"/>
<line x1="511.40" y1="37.76" x2="506.40" y2="37.76" class="tk"/>
<line x1="49.60" y1="78.08" x2="54.60" y2="78.08" class="tk"/>
<line x1="511.40" y1="78.08" x2="506.40" y2="78.08" class="tk"/>
<line x1="49.60" y1="118.41" x2="54.60" y2="118.41" class="tk"/>
<line x1="511.40" y1="118.41" x2="506.40" y2="118.41" class="tk"/>
<line x1="49.60" y1="158.73" x2="54.60" y2="158.73" class="tk"/>
<line x1="511.40" y1="158.73" x2="506.40" y2="158.73" class="tk"/>
<line x1="49.70" y1="158.70" x2="49.70" y2="140.00" stroke="#0072BD" stroke-width="1.10"/>
<circle cx="49.70" cy="158.70" r="1.80" fill="#0072BD"/>
<line x1="511.30" y1="103.30" x2="511.30" y2="120.00" stroke="#0072BD" stroke-width="1.10"/>
<circle cx="511.30" cy="103.30" r="1.80" fill="#0072BD"/>
<circle cx="49.70" cy="119.80" r="1.80" fill="#D95319"/>
<circle cx="49.70" cy="136.90" r="1.80" fill="#EDB120"/>
<circle cx="49.70" cy="132.90" r="1.80" fill="#4DBEEE"/>
<line x1="62.11" y1="174.00" x2="62.11" y2="340.00" class="gm"/>
<line x1="76.62" y1="174.00" x2="76.62" y2="340.00" class="gm"/>
<line x1="91.14" y1="174.00" x2="91.14" y2="340.00" class="gm"/>
<line x1="105.65" y1="174.00" x2="105.65" y2="340.00" class="gM"/>
<line x1="120.16" y1="174.00" x2="120.16" y2="340.00" class="gm"/>
<line x1="134.67" y1="174.00" x2="134.67" y2="340.00" class="gm"/>
<line x1="149.19" y1="174.00" x2="149.19" y2="340.00" class="gm"/>
<line x1="163.70" y1="174.00" x2="163.70" y2="340.00" class="gM"/>
<line x1="178.21" y1="174.00" x2="178.21" y2="340.00" class="gm"/>
<line x1="192.72" y1="174.00" x2="192.72" y2="340.00" class="gm"/>
<line x1="207.24" y1="174.00" x2="207.24" y2="340.00" class="gm"/>
<line x1="221.75" y1="174.00" x2="221.75" y2="340.00" class="gM"/>
<line x1="236.26" y1="174.00" x2="236.26" y2="340.00" class="gm"/>
<line x1="250.77" y1="174.00" x2="250.77" y2="340.00" class="gm"/>
<line x1="265.29" y1="174.00" x2="265.29" y2="340.00" class="gm"/>
<line x1="279.80" y1="174.00" x2="279.80" y2="340.00" class="gM"/>
<line x1="294.31" y1="174.00" x2="294.31" y2="340.00" class="gm"/>
<line x1="308.82" y1="174.00" x2="308.82" y2="340.00" class="gm"/>
<line x1="323.34" y1="174.00" x2="323.34" y2="340.00" class="gm"/>
<line x1="337.85" y1="174.00" x2="337.85" y2="340.00" class="gM"/>
<line x1="352.36" y1="174.00" x2="352.36" y2="340.00" class="gm"/>
<line x1="366.88" y1="174.00" x2="366.88" y2="340.00" class="gm"/>
<line x1="381.39" y1="174.00" x2="381.39" y2="340.00" class="gm"/>
<line x1="395.90" y1="174.00" x2="395.90" y2="340.00" class="gM"/>
<line x1="410.41" y1="174.00" x2="410.41" y2="340.00" class="gm"/>
<line x1="424.93" y1="174.00" x2="424.93" y2="340.00" class="gm"/>
<line x1="439.44" y1="174.00" x2="439.44" y2="340.00" class="gm"/>
<line x1="453.95" y1="174.00" x2="453.95" y2="340.00" class="gM"/>
<line x1="468.46" y1="174.00" x2="468.46" y2="340.00" class="gm"/>
<line x1="482.98" y1="174.00" x2="482.98" y2="340.00" class="gm"/>
<line x1="497.49" y1="174.00" x2="497.49" y2="340.00" class="gm"/>
<line x1="47.60" y1="331.70" x2="512.00" y2="331.70" class="gM"/>
<line x1="47.60" y1="321.32" x2="512.00" y2="321.32" class="gm"/>
<line x1="47.60" y1="310.95" x2="512.00" y2="310.95" class="gm"/>
<line x1="47.60" y1="300.57" x2="512.00" y2="300.57" class="gm"/>
<line x1="47.60" y1="290.20" x2="512.00" y2="290.20" class="gM"/>
<line x1="47.60" y1="279.82" x2="512.00" y2="279.82" class="gm"/>
<line x1="47.60" y1="269.45" x2="512.00" y2="269.45" class="gm"/>
<line x1="47.60" y1="259.07" x2="512.00" y2="259.07" class="gm"/>
<line x1="47.60" y1="248.70" x2="512.00" y2="248.70" class="gM"/>
<line x1="47.60" y1="238.32" x2="512.00" y2="238.32" class="gm"/>
<line x1="47.60" y1="227.95" x2="512.00" y2="227.95" class="gm"/>
<line x1="47.60" y1="217.57" x2="512.00" y2="217.57" class="gm"/>
<line x1="47.60" y1="207.20" x2="512.00" y2="207.20" class="gM"/>
<line x1="47.60" y1="196.83" x2="512.00" y2="196.83" class="gm"/>
<line x1="47.60" y1="186.45" x2="512.00" y2="186.45" class="gm"/>
<line x1="47.60" y1="176.08" x2="512.00" y2="176.08" class="gm"/>
<line x1="109.60" y1="179.50" x2="139.90" y2="179.50" stroke="#0072BD" stroke-width="1.00"/>
<circle cx="124.90" cy="179.70" r="2.00" fill="#0072BD"/>
<line x1="109.60" y1="191.50" x2="139.90" y2="191.50" stroke="#D95319" stroke-width="1.00"/>
<circle cx="124.90" cy="191.22" r="2.00" fill="#D95319"/>
<line x1="109.60" y1="202.50" x2="139.90" y2="202.50" stroke="#EDB120" stroke-width="1.00"/>
<circle cx="124.90" cy="202.74" r="2.00" fill="#EDB120"/>
<line x1="109.60" y1="214.50" x2="139.90" y2="214.50" stroke="#7E2F8E" stroke-width="1.00"/>
<circle cx="124.90" cy="214.26" r="2.00" fill="#7E2F8E"/>
<line x1="109.60" y1="225.50" x2="139.90" y2="225.50" stroke="#77AC30" stroke-width="1.00"/>
<circle cx="124.90" cy="225.78" r="2.00" fill="#77AC30"/>
<line x1="109.60" y1="237.50" x2="139.90" y2="237.50" stroke="#4DBEEE" stroke-width="1.00"/>
<circle cx="124.90" cy="237.30" r="2.00" fill="#4DBEEE"/>
<g clip-path="url(#cb)">
<path d="M47.6,255.8 C48.0,255.0 48.5,252.3 49.7,250.9 C50.9,249.5 52.8,247.7 54.6,247.2 C56.5,246.7 58.7,247.3 60.8,247.7 C62.9,248.1 65.0,248.5 67.0,249.7 C69.0,250.8 71.2,254.8 73.1,254.6 C74.9,254.4 76.6,250.4 78.1,248.4 C79.5,246.4 80.6,242.3 81.8,242.3 C83.0,242.3 84.3,246.6 85.5,248.4 C86.7,250.2 87.8,254.2 89.2,253.4 C90.6,252.6 92.7,245.8 94.1,243.5 C95.5,241.2 96.6,239.4 97.8,239.8 C99.0,240.2 100.5,246.0 101.5,246.0 C102.5,246.0 102.8,240.2 104.0,239.8 C105.2,239.4 107.3,242.9 108.9,243.5 C110.5,244.1 112.2,241.8 113.8,243.5 C115.4,245.2 117.1,251.1 118.8,253.4 C120.5,255.7 122.1,256.9 123.7,257.1 C125.3,257.3 126.9,253.8 128.6,254.6 C130.2,255.4 132.1,258.7 133.6,262.0 C135.1,265.3 136.1,271.6 137.3,274.3 C138.5,277.0 139.8,278.4 141.0,278.0 C142.2,277.6 143.5,274.8 144.7,271.9 C145.9,269.0 147.2,263.9 148.4,260.8 C149.6,257.7 150.5,254.2 152.1,253.4 C153.7,252.6 156.1,255.8 158.2,255.8 C160.2,255.8 162.6,253.2 164.4,253.4 C166.2,253.6 168.0,256.3 169.3,257.1 C170.6,257.9 170.9,257.0 172.0,258.0 C173.1,259.0 174.8,264.8 175.9,263.1 C177.0,261.4 177.6,254.5 178.4,247.6 C179.2,240.7 179.9,229.1 181.0,221.8 C182.1,214.5 183.6,205.7 184.9,203.8 C186.2,201.9 187.5,208.0 188.8,210.2 C190.1,212.3 191.1,218.0 192.6,216.7 C194.1,215.4 196.3,203.8 197.8,202.5 C199.3,201.2 200.4,207.5 201.7,209.0 C203.0,210.5 204.0,211.7 205.5,211.5 C207.0,211.3 209.2,207.9 210.7,207.7 C212.2,207.5 213.3,211.7 214.6,210.2 C215.9,208.7 217.1,199.2 218.4,198.6 C219.7,198.0 220.8,204.2 222.3,206.4 C223.8,208.6 225.8,210.9 227.5,211.5 C229.2,212.1 231.1,211.0 232.6,210.2 C234.1,209.3 235.2,206.2 236.5,206.4 C237.8,206.6 239.1,211.5 240.4,211.5 C241.7,211.5 242.7,205.8 244.2,206.4 C245.7,207.1 247.9,214.8 249.4,215.4 C250.9,216.0 251.9,212.6 253.2,210.2 C254.5,207.8 255.8,200.5 257.1,201.2 C258.4,201.8 259.7,216.0 261.0,214.1 C262.3,212.2 263.6,192.8 264.9,189.6 C266.2,186.4 267.4,193.1 268.7,194.8 C270.0,196.5 271.3,199.9 272.6,199.9 C273.9,199.9 275.2,194.2 276.5,194.8 C277.8,195.5 278.8,203.6 280.3,203.8 C281.8,204.0 283.8,197.0 285.5,196.1 C287.2,195.2 289.1,199.5 290.6,198.6 C292.1,197.7 293.2,190.9 294.5,190.9 C295.8,190.9 297.2,197.7 298.4,198.6 C299.6,199.5 300.5,197.4 301.9,196.1 C303.3,194.8 305.5,191.3 307.0,190.9 C308.5,190.5 309.6,192.0 310.9,193.5 C312.2,195.0 313.7,197.8 314.8,199.9 C315.9,202.1 316.3,204.2 317.3,206.4 C318.3,208.6 319.6,213.7 320.7,212.8 C321.8,211.9 322.6,205.3 323.8,201.2 C325.0,197.1 326.4,190.2 327.7,188.3 C329.0,186.4 330.2,187.4 331.5,189.6 C332.8,191.8 334.3,198.8 335.4,201.2 C336.5,203.6 336.9,205.3 338.0,203.8 C339.1,202.3 340.5,193.3 341.8,192.2 C343.1,191.1 344.4,196.5 345.7,197.3 C347.0,198.2 348.3,196.4 349.6,197.3 C350.9,198.2 352.0,202.9 353.5,202.5 C355.0,202.1 356.9,195.2 358.6,194.8 C360.3,194.4 362.1,198.8 363.8,199.9 C365.5,201.0 367.2,200.8 368.9,201.2 C370.6,201.6 372.4,202.3 374.1,202.5 C375.8,202.7 377.9,203.4 379.2,202.5 C380.5,201.6 380.7,196.7 381.8,197.3 C382.9,198.0 384.4,204.2 385.7,206.4 C387.0,208.6 388.1,210.0 389.6,210.2 C391.1,210.4 393.2,206.8 394.7,207.7 C396.2,208.6 397.3,213.9 398.6,215.4 C399.9,216.9 401.2,215.8 402.5,216.7 C403.8,217.6 405.0,218.9 406.3,220.6 C407.6,222.3 408.9,226.2 410.2,227.0 C411.5,227.8 412.8,227.8 414.1,225.7 C415.4,223.5 416.6,216.2 417.9,214.1 C419.2,211.9 420.8,213.2 421.8,212.8 C422.8,212.4 422.9,210.7 423.9,211.6 C424.9,212.5 426.4,217.6 427.7,218.0 C429.0,218.4 430.3,214.5 431.6,214.1 C432.9,213.7 434.2,216.9 435.5,215.4 C436.8,213.9 438.3,208.5 439.4,205.1 C440.5,201.7 440.8,196.7 441.9,194.8 C443.0,192.9 444.5,192.2 445.8,193.5 C447.1,194.8 448.6,200.6 449.7,202.5 C450.8,204.4 451.4,202.9 452.3,205.1 C453.2,207.2 454.0,211.5 454.8,215.4 C455.6,219.3 456.3,227.0 457.4,228.3 C458.5,229.6 460.0,222.8 461.3,223.2 C462.6,223.6 463.9,229.4 465.2,230.9 C466.5,232.4 467.7,232.6 469.0,232.2 C470.3,231.8 471.6,229.8 472.9,228.3 C474.2,226.8 475.6,222.3 476.8,223.2 C478.0,224.1 478.9,230.1 479.9,233.5 C480.9,236.9 481.7,244.2 482.7,243.8 C483.7,243.4 484.6,232.6 485.8,230.9 C487.0,229.2 488.4,234.8 489.7,233.5 C491.0,232.2 492.3,226.4 493.6,223.2 C494.9,220.0 496.1,218.0 497.4,214.1 C498.7,210.2 500.0,199.5 501.3,199.9 C502.6,200.3 503.9,213.5 505.2,216.7 C506.5,219.9 508.0,217.8 509.1,219.3 C510.2,220.8 511.5,224.7 512.0,225.8" fill="none" stroke="#0072BD" stroke-width="3.90" stroke-linejoin="round" stroke-linecap="round"/>
<path d="M47.6,253.4 C48.1,252.6 49.3,249.4 50.9,248.4 C52.5,247.4 55.0,247.0 57.1,247.2 C59.2,247.4 61.4,248.9 63.3,249.7 C65.1,250.5 66.6,251.3 68.2,252.1 C69.8,252.9 71.2,255.0 73.1,254.6 C74.9,254.2 77.4,250.7 79.3,249.7 C81.2,248.7 82.8,247.8 84.2,248.4 C85.6,249.0 86.5,253.4 87.9,253.4 C89.4,253.4 91.5,249.9 92.9,248.4 C94.4,246.9 95.4,244.7 96.6,244.7 C97.8,244.7 98.9,248.4 100.3,248.4 C101.7,248.4 103.3,245.4 105.2,244.7 C107.1,244.0 109.4,244.0 111.4,244.2 C113.5,244.4 115.7,245.3 117.5,246.0 C119.3,246.7 120.7,248.1 122.5,248.4 C124.3,248.7 126.8,247.1 128.6,247.7 C130.4,248.3 131.9,250.1 133.6,252.1 C135.2,254.1 137.1,257.4 138.5,259.5 C139.9,261.6 140.8,264.3 142.2,264.5 C143.6,264.7 145.4,262.4 147.1,260.8 C148.8,259.2 150.2,256.1 152.1,254.6 C153.9,253.1 155.9,252.5 158.2,252.1 C160.4,251.7 163.5,251.3 165.6,252.1 C167.7,252.9 169.5,256.1 170.6,257.1 C171.7,258.1 171.1,257.4 172.0,258.0 C172.9,258.6 174.6,263.5 175.9,260.5 C177.2,257.5 178.4,246.3 179.7,239.9 C181.0,233.5 182.5,225.7 183.6,221.8 C184.7,217.9 185.1,215.4 186.2,216.7 C187.3,218.0 188.8,228.3 190.1,229.6 C191.4,230.9 192.6,225.9 193.9,224.4 C195.2,222.9 196.3,219.5 197.8,220.6 C199.3,221.7 201.3,230.3 203.0,230.9 C204.7,231.5 206.4,225.3 208.1,224.4 C209.8,223.5 211.6,227.2 213.3,225.7 C215.0,224.2 216.9,216.1 218.4,215.4 C219.9,214.8 220.8,220.1 222.3,221.8 C223.8,223.5 225.8,225.3 227.5,225.7 C229.2,226.1 230.9,225.1 232.6,224.4 C234.3,223.8 236.3,221.6 237.8,221.8 C239.3,222.0 240.3,226.1 241.6,225.7 C242.9,225.3 244.2,218.7 245.5,219.3 C246.8,220.0 247.9,229.6 249.4,229.6 C250.9,229.6 252.8,219.7 254.5,219.3 C256.2,218.9 258.2,228.3 259.7,227.0 C261.2,225.7 262.5,214.7 263.6,211.5 C264.7,208.3 265.0,206.6 266.1,207.7 C267.2,208.8 268.7,217.2 270.0,218.0 C271.3,218.8 272.6,212.4 273.9,212.8 C275.2,213.2 276.5,219.1 277.8,220.6 C279.1,222.1 280.3,222.9 281.6,221.8 C282.9,220.7 284.0,215.2 285.5,214.1 C287.0,213.0 289.1,216.5 290.6,215.4 C292.1,214.3 293.2,207.7 294.5,207.7 C295.8,207.7 296.9,214.8 298.4,215.4 C299.8,216.0 301.5,212.6 303.2,211.5 C304.9,210.4 306.6,209.2 308.3,209.0 C310.0,208.8 312.0,209.3 313.5,210.2 C315.0,211.0 316.1,212.6 317.3,214.1 C318.5,215.6 319.6,219.7 320.7,219.3 C321.8,218.9 322.6,214.1 323.8,211.5 C325.0,208.9 326.4,204.7 327.7,203.8 C329.0,203.0 330.4,204.7 331.5,206.4 C332.6,208.1 333.2,211.5 334.1,214.1 C335.1,216.7 336.1,222.5 337.2,221.8 C338.3,221.2 339.4,213.0 340.6,210.2 C341.8,207.4 343.1,204.9 344.4,205.1 C345.7,205.3 346.8,210.8 348.3,211.5 C349.8,212.2 351.8,209.8 353.5,209.0 C355.2,208.2 356.9,205.6 358.6,206.4 C360.3,207.2 362.1,212.4 363.8,214.1 C365.5,215.8 367.2,216.3 368.9,216.7 C370.6,217.1 372.6,216.3 374.1,216.7 C375.6,217.1 376.7,220.0 378.0,219.3 C379.3,218.7 380.5,212.2 381.8,212.8 C383.1,213.4 384.4,220.7 385.7,223.1 C387.0,225.5 388.1,227.4 389.6,227.0 C391.1,226.6 393.0,219.9 394.7,220.6 C396.4,221.2 398.4,229.0 399.9,230.9 C401.4,232.8 402.7,232.4 403.8,232.2 C404.9,232.0 405.2,228.3 406.3,229.6 C407.4,230.9 408.7,238.6 410.2,239.9 C411.7,241.2 413.7,239.0 415.4,237.3 C417.1,235.6 419.1,230.2 420.5,229.6 C421.9,229.0 422.7,233.3 423.9,233.5 C425.1,233.7 426.4,231.1 427.7,230.9 C429.0,230.7 430.3,232.4 431.6,232.2 C432.9,232.0 434.2,232.4 435.5,229.6 C436.8,226.8 438.1,218.0 439.4,215.4 C440.7,212.8 441.9,214.7 443.2,214.1 C444.5,213.5 445.8,210.7 447.1,211.6 C448.4,212.5 449.7,216.9 451.0,219.3 C452.3,221.7 453.7,222.4 454.8,225.8 C455.9,229.2 456.3,238.7 457.4,240.0 C458.5,241.3 460.0,233.1 461.3,233.5 C462.6,233.9 463.9,240.6 465.2,242.5 C466.5,244.4 467.5,244.9 469.0,245.1 C470.5,245.3 472.7,245.1 474.2,243.8 C475.7,242.5 477.0,237.0 478.1,237.4 C479.2,237.8 479.9,243.8 480.7,246.4 C481.5,249.0 482.2,253.6 483.2,252.9 C484.2,252.2 485.4,243.8 486.6,242.5 C487.8,241.2 489.0,246.2 490.2,245.1 C491.4,244.0 492.4,239.1 493.6,236.1 C494.8,233.1 496.1,230.9 497.4,227.0 C498.7,223.1 500.1,212.4 501.3,212.8 C502.5,213.2 503.6,226.6 504.7,229.6 C505.8,232.6 506.6,229.4 507.8,230.9 C509.0,232.4 511.3,237.4 512.0,238.7" fill="none" stroke="#D95319" stroke-width="3.90" stroke-linejoin="round" stroke-linecap="round"/>
<path d="M47.6,318.7 C48.1,317.5 49.5,312.9 50.9,311.3 C52.3,309.7 54.2,309.1 55.9,308.9 C57.5,308.7 58.9,309.3 60.8,310.1 C62.6,310.9 65.0,313.4 67.0,313.8 C69.0,314.2 71.0,313.2 73.1,312.6 C75.1,312.0 77.2,310.5 79.3,310.1 C81.4,309.7 83.5,310.5 85.5,310.1 C87.5,309.7 89.5,308.8 91.6,307.6 C93.6,306.4 95.7,304.3 97.8,302.7 C99.9,301.1 102.2,299.6 104.0,297.8 C105.8,296.0 107.3,294.5 108.9,291.6 C110.5,288.7 112.4,284.2 113.8,280.5 C115.2,276.8 116.3,272.5 117.5,269.4 C118.7,266.3 120.0,262.2 121.2,262.0 C122.4,261.8 123.5,266.6 124.9,268.2 C126.4,269.8 128.5,271.9 129.9,271.9 C131.3,271.9 132.4,269.8 133.6,268.2 C134.8,266.6 136.1,262.0 137.3,262.0 C138.5,262.0 139.8,265.9 141.0,268.2 C142.2,270.5 143.3,273.1 144.7,275.6 C146.1,278.1 148.0,281.1 149.6,283.0 C151.2,284.9 152.8,286.5 154.5,286.7 C156.2,286.9 157.7,284.8 159.5,284.2 C161.3,283.6 163.8,283.8 165.6,283.0 C167.4,282.2 169.4,280.6 170.6,279.3 C171.8,278.0 171.9,275.1 173.0,275.0 C174.1,274.9 175.6,276.7 177.2,278.6 C178.8,280.5 180.6,284.2 182.3,286.3 C184.0,288.4 186.0,291.9 187.5,291.5 C189.0,291.1 190.0,285.9 191.3,283.8 C192.6,281.7 193.7,279.4 195.2,278.6 C196.7,277.8 198.7,279.4 200.4,279.0 C202.1,278.6 203.8,277.7 205.5,276.0 C207.2,274.3 209.3,270.4 210.7,269.0 C212.1,267.6 212.9,267.0 214.0,267.5 C215.1,268.0 216.4,270.2 217.5,272.0 C218.6,273.8 219.3,277.4 220.5,278.0 C221.7,278.6 223.0,277.5 224.5,275.5 C226.0,273.5 228.1,269.0 229.6,266.0 C231.1,263.0 231.9,259.0 233.3,257.4 C234.8,255.8 236.7,257.2 238.3,256.2 C240.0,255.2 241.5,253.1 243.2,251.2 C244.9,249.3 246.8,245.2 248.3,245.0 C249.8,244.8 250.8,248.6 252.0,250.2 C253.2,251.8 254.3,254.3 255.8,254.5 C257.3,254.7 259.3,251.6 261.0,251.5 C262.7,251.4 264.4,253.2 266.1,254.1 C267.8,255.0 269.4,256.7 271.3,256.7 C273.2,256.7 275.9,255.0 277.8,254.1 C279.7,253.2 281.2,252.0 282.9,251.5 C284.6,251.0 286.2,251.0 288.1,251.0 C290.0,251.0 292.5,251.2 294.5,251.5 C296.5,251.8 298.6,252.5 300.0,252.5 C301.4,252.5 301.8,252.0 303.2,251.5 C304.6,251.0 306.6,249.5 308.3,249.7 C310.0,249.9 311.8,251.4 313.5,252.8 C315.2,254.2 316.9,257.4 318.6,258.0 C320.3,258.6 322.1,257.1 323.8,256.7 C325.5,256.3 327.3,256.1 329.0,255.4 C330.7,254.8 332.4,253.5 334.1,252.8 C335.8,252.2 337.6,251.7 339.3,251.5 C341.0,251.3 342.7,251.9 344.4,251.5 C346.1,251.1 347.9,248.7 349.6,248.9 C351.3,249.1 353.0,252.2 354.7,252.8 C356.4,253.5 358.2,252.6 359.9,252.8 C361.6,253.0 363.4,253.9 365.1,254.1 C366.8,254.3 368.5,253.9 370.2,254.1 C371.9,254.3 373.7,255.0 375.4,255.4 C377.1,255.8 378.8,256.3 380.5,256.7 C382.2,257.1 384.0,257.4 385.7,258.0 C387.4,258.6 389.2,259.8 390.9,260.0 C392.6,260.2 394.3,259.8 396.0,259.2 C397.7,258.6 399.5,256.9 401.2,256.7 C402.9,256.5 404.6,258.2 406.3,258.0 C408.0,257.8 409.8,255.0 411.5,255.4 C413.2,255.8 414.9,259.4 416.6,260.5 C418.3,261.6 420.4,260.9 421.8,261.8 C423.2,262.7 423.8,264.5 425.2,265.8 C426.6,267.1 428.6,268.3 430.3,269.6 C432.0,270.9 433.8,271.6 435.5,273.5 C437.2,275.4 439.2,278.7 440.7,281.3 C442.2,283.9 443.4,286.9 444.5,289.0 C445.6,291.1 446.0,294.8 447.1,294.2 C448.2,293.6 449.5,287.9 451.0,285.1 C452.5,282.3 454.4,279.5 456.1,277.4 C457.8,275.2 459.4,273.3 461.3,272.2 C463.2,271.1 465.7,270.7 467.8,270.9 C469.9,271.1 472.3,273.7 474.2,273.5 C476.1,273.3 477.9,270.9 479.4,269.6 C480.9,268.3 481.9,266.0 483.2,265.8 C484.5,265.6 485.8,268.3 487.1,268.3 C488.4,268.3 489.7,266.0 491.0,265.8 C492.3,265.6 493.6,265.8 494.9,267.1 C496.2,268.4 497.4,271.8 498.7,273.5 C500.0,275.2 501.1,277.0 502.6,277.4 C504.1,277.8 506.2,276.1 507.8,276.1 C509.4,276.1 511.3,277.2 512.0,277.4" fill="none" stroke="#EDB120" stroke-width="3.90" stroke-linejoin="round" stroke-linecap="round"/>
<path d="M47.6,299.0 C48.6,298.8 51.2,298.0 53.4,297.8 C55.6,297.6 58.3,297.6 60.8,297.8 C63.3,298.0 65.7,299.2 68.2,299.0 C70.7,298.8 73.1,296.7 75.6,296.5 C78.1,296.3 80.5,297.8 83.0,297.8 C85.5,297.8 87.9,296.9 90.4,296.5 C92.9,296.1 95.3,295.6 97.8,295.3 C100.3,295.0 102.7,295.2 105.2,294.6 C107.7,294.0 110.1,292.3 112.6,291.6 C115.1,290.9 117.5,289.8 120.0,290.4 C122.5,291.0 124.9,294.9 127.4,295.3 C129.9,295.7 132.5,293.6 134.8,292.8 C137.1,292.0 138.9,290.0 141.0,290.4 C143.1,290.8 144.8,294.3 147.1,295.3 C149.3,296.3 152.0,296.7 154.5,296.5 C157.0,296.3 159.4,295.5 161.9,294.1 C164.4,292.7 167.3,289.2 169.3,288.0 C171.3,286.8 172.7,287.4 174.0,287.0 C175.3,286.6 175.8,285.6 177.0,285.6 C178.2,285.6 179.7,286.4 181.0,287.0 C182.3,287.6 183.4,289.3 184.6,289.4 C185.8,289.5 186.9,288.3 188.0,287.5 C189.1,286.7 189.7,285.6 191.0,284.4 C192.3,283.2 194.4,281.2 196.0,280.5 C197.6,279.8 199.3,280.3 200.5,280.0 C201.7,279.7 201.7,279.5 203.0,278.6 C204.3,277.7 206.4,275.8 208.1,274.7 C209.8,273.6 211.6,272.1 213.3,272.1 C215.0,272.1 216.7,274.9 218.4,274.7 C220.1,274.5 221.7,271.9 223.6,270.9 C225.5,269.9 227.8,269.0 230.0,268.8 C232.2,268.6 234.3,269.7 236.5,269.6 C238.7,269.5 240.8,268.7 242.9,268.3 C245.1,267.9 247.5,267.6 249.4,267.0 C251.3,266.4 252.8,265.9 254.5,264.4 C256.2,262.9 258.2,258.2 259.7,258.0 C261.2,257.8 262.1,261.8 263.6,263.1 C265.1,264.4 267.0,266.1 268.7,265.7 C270.4,265.3 272.4,261.1 273.9,260.5 C275.4,259.9 276.3,262.0 277.8,261.8 C279.3,261.6 281.2,259.8 282.9,259.2 C284.6,258.6 286.4,258.6 288.1,258.0 C289.8,257.4 291.5,256.1 293.2,255.4 C294.9,254.8 296.7,254.3 298.4,254.1 C300.1,253.9 301.3,254.8 303.2,254.1 C305.1,253.4 307.7,250.4 309.6,250.2 C311.5,250.0 313.3,251.7 314.8,252.8 C316.3,253.9 317.3,255.8 318.6,256.7 C319.9,257.6 321.0,258.6 322.5,258.0 C324.0,257.4 326.0,252.6 327.7,252.8 C329.4,253.0 331.1,257.7 332.8,259.2 C334.5,260.7 336.3,262.0 338.0,261.8 C339.7,261.6 341.4,258.4 343.1,258.0 C344.8,257.6 346.6,259.8 348.3,259.2 C350.0,258.6 351.8,254.7 353.5,254.1 C355.2,253.5 356.9,255.0 358.6,255.4 C360.3,255.8 362.1,256.3 363.8,256.7 C365.5,257.1 367.2,258.4 368.9,258.0 C370.6,257.6 372.6,253.7 374.1,254.1 C375.6,254.5 376.5,258.4 378.0,260.5 C379.5,262.6 381.4,265.7 383.1,267.0 C384.8,268.3 386.6,268.5 388.3,268.3 C390.0,268.1 391.9,266.6 393.4,265.7 C394.9,264.8 396.0,262.9 397.3,263.1 C398.6,263.3 399.7,266.1 401.2,267.0 C402.7,267.9 404.6,267.9 406.3,268.3 C408.0,268.7 409.8,269.0 411.5,269.6 C413.2,270.2 414.9,271.2 416.6,272.1 C418.3,273.0 420.4,273.8 421.8,274.7 C423.2,275.6 423.6,276.7 425.0,277.4 C426.4,278.1 428.6,278.5 430.3,278.7 C432.1,278.9 433.8,278.4 435.5,278.7 C437.2,279.0 439.2,279.8 440.7,280.7 C442.2,281.6 443.0,284.4 444.5,283.8 C446.0,283.2 448.0,279.3 449.7,277.4 C451.4,275.5 453.1,273.5 454.8,272.2 C456.5,270.9 458.3,269.8 460.0,269.6 C461.7,269.4 463.5,270.5 465.2,270.9 C466.9,271.3 468.6,272.0 470.3,272.2 C472.0,272.4 473.8,272.0 475.5,272.2 C477.2,272.4 479.0,272.9 480.7,273.5 C482.4,274.1 484.1,275.5 485.8,276.1 C487.5,276.8 489.3,277.2 491.0,277.4 C492.7,277.6 494.4,277.8 496.1,277.4 C497.8,277.0 499.6,275.7 501.3,274.8 C503.0,273.9 504.7,273.5 506.5,272.2 C508.3,270.9 511.1,268.0 512.0,267.1" fill="none" stroke="#7E2F8E" stroke-width="3.90" stroke-linejoin="round" stroke-linecap="round"/>
<path d="M47.6,323.7 C48.1,322.7 49.5,318.8 50.9,317.5 C52.3,316.2 54.2,315.8 55.9,315.8 C57.5,315.8 58.8,316.9 60.8,317.5 C62.8,318.1 65.7,319.2 68.2,319.2 C70.7,319.2 73.1,317.6 75.6,317.5 C78.1,317.4 80.5,318.9 83.0,318.7 C85.5,318.5 87.9,316.8 90.4,316.3 C92.9,315.8 95.3,316.2 97.8,315.8 C100.3,315.4 102.9,314.3 105.2,313.8 C107.5,313.3 109.8,313.8 111.4,312.6 C113.1,311.4 113.9,309.1 115.1,306.4 C116.3,303.7 117.6,297.7 118.8,296.5 C120.0,295.3 121.1,298.0 122.5,299.0 C123.9,300.0 125.8,302.1 127.4,302.7 C129.0,303.3 130.7,303.3 132.3,302.7 C134.0,302.1 135.7,300.2 137.3,299.0 C139.0,297.8 140.8,295.3 142.2,295.3 C143.6,295.3 144.7,297.6 145.9,299.0 C147.1,300.4 148.2,302.9 149.6,303.9 C151.0,304.9 152.8,305.8 154.5,305.2 C156.2,304.6 157.4,301.2 159.5,300.2 C161.6,299.2 164.7,298.9 166.9,299.0 C169.2,299.1 171.3,300.0 173.0,300.5 C174.7,301.0 175.6,300.5 177.2,301.8 C178.8,303.1 180.6,307.4 182.3,308.3 C184.0,309.2 185.8,308.3 187.5,307.0 C189.2,305.7 190.9,301.8 192.6,300.5 C194.3,299.2 196.1,300.5 197.8,299.5 C199.5,298.5 201.3,295.9 203.0,294.5 C204.7,293.1 206.4,291.9 208.1,291.0 C209.8,290.1 211.6,289.7 213.3,289.0 C215.0,288.3 216.7,288.0 218.4,287.0 C220.1,286.0 221.9,284.5 223.6,283.0 C225.3,281.5 227.0,279.1 228.7,278.0 C230.4,276.9 232.2,276.9 233.9,276.5 C235.6,276.1 237.4,275.8 239.1,275.5 C240.8,275.2 242.5,275.3 244.2,274.5 C245.9,273.7 247.7,272.1 249.4,270.5 C251.1,268.9 252.8,265.6 254.5,264.8 C256.2,264.0 258.0,264.9 259.7,265.7 C261.4,266.5 263.4,268.5 264.9,269.6 C266.4,270.7 267.2,272.5 268.7,272.1 C270.2,271.7 272.0,268.5 273.9,267.0 C275.8,265.5 278.4,263.5 280.3,263.1 C282.2,262.7 283.8,263.8 285.5,264.4 C287.2,265.0 288.9,266.1 290.6,267.0 C292.3,267.9 294.2,269.0 295.8,269.6 C297.4,270.2 298.8,270.5 300.0,270.5 C301.2,270.5 301.8,270.2 303.2,269.6 C304.6,269.0 306.6,267.9 308.3,267.0 C310.0,266.1 312.0,265.0 313.5,264.4 C315.0,263.8 316.0,262.2 317.3,263.1 C318.6,264.0 319.9,269.2 321.2,269.6 C322.5,270.0 323.8,267.2 325.1,265.7 C326.4,264.2 327.5,260.5 329.0,260.5 C330.5,260.5 332.4,264.0 334.1,265.7 C335.8,267.4 337.6,269.8 339.3,270.9 C341.0,272.0 342.7,271.7 344.4,272.1 C346.1,272.5 348.1,275.1 349.6,273.4 C351.1,271.7 352.4,264.6 353.5,261.8 C354.6,259.0 354.9,256.7 356.0,256.7 C357.1,256.7 358.4,260.3 359.9,261.8 C361.4,263.3 363.4,265.7 365.1,265.7 C366.8,265.7 368.7,263.1 370.2,261.8 C371.7,260.5 372.8,257.4 374.1,258.0 C375.4,258.6 376.7,263.1 378.0,265.7 C379.3,268.3 380.5,271.9 381.8,273.4 C383.1,274.9 384.2,274.7 385.7,274.7 C387.2,274.7 389.2,274.2 390.9,273.4 C392.6,272.5 394.3,270.5 396.0,269.6 C397.7,268.8 399.5,268.3 401.2,268.3 C402.9,268.3 404.6,269.0 406.3,269.6 C408.0,270.2 409.8,271.5 411.5,272.1 C413.2,272.7 414.9,272.8 416.6,273.4 C418.3,274.0 420.4,275.1 421.8,276.0 C423.2,276.9 423.8,277.8 425.2,278.7 C426.6,279.6 428.6,280.7 430.3,281.3 C432.0,281.9 433.8,281.2 435.5,282.5 C437.2,283.8 439.2,286.8 440.7,289.0 C442.2,291.2 443.4,294.0 444.5,295.5 C445.6,297.0 446.0,299.1 447.1,298.0 C448.2,296.9 449.5,292.2 451.0,289.0 C452.5,285.8 454.4,281.1 456.1,278.7 C457.8,276.3 459.8,275.9 461.3,274.8 C462.8,273.7 463.7,272.2 465.2,272.2 C466.7,272.2 468.6,274.1 470.3,274.8 C472.0,275.5 473.8,276.8 475.5,276.1 C477.2,275.5 479.2,270.7 480.7,270.9 C482.2,271.1 483.2,276.1 484.5,277.4 C485.8,278.7 487.1,279.1 488.4,278.7 C489.7,278.3 490.8,274.8 492.3,274.8 C493.8,274.8 495.7,278.5 497.4,278.7 C499.1,278.9 500.9,277.2 502.6,276.1 C504.3,275.0 506.2,273.9 507.8,272.2 C509.4,270.5 511.3,266.9 512.0,265.8" fill="none" stroke="#77AC30" stroke-width="3.90" stroke-linejoin="round" stroke-linecap="round"/>
<path d="M47.6,302.7 C48.6,302.9 51.2,303.8 53.4,303.9 C55.6,304.0 58.3,303.2 60.8,303.4 C63.3,303.6 65.7,305.2 68.2,305.2 C70.7,305.2 73.1,303.6 75.6,303.4 C78.1,303.2 80.5,304.2 83.0,303.9 C85.5,303.6 87.9,301.7 90.4,301.5 C92.9,301.3 95.3,302.7 97.8,302.7 C100.3,302.7 102.7,302.1 105.2,301.5 C107.7,300.9 110.1,299.8 112.6,299.0 C115.1,298.2 117.5,296.5 120.0,296.5 C122.5,296.5 124.9,299.2 127.4,299.0 C129.9,298.8 132.3,296.1 134.8,295.3 C137.3,294.5 140.3,293.9 142.2,294.1 C144.0,294.3 144.2,295.7 145.9,296.5 C147.6,297.3 149.8,298.0 152.1,299.0 C154.4,300.0 157.0,302.0 159.5,302.7 C162.0,303.4 164.7,303.2 166.9,303.4 C169.2,303.6 171.3,303.4 173.0,304.0 C174.7,304.6 175.6,305.6 177.2,307.0 C178.8,308.4 180.6,311.5 182.3,312.1 C184.0,312.7 185.8,311.2 187.5,310.8 C189.2,310.4 190.9,310.6 192.6,309.5 C194.3,308.4 196.1,306.1 197.8,304.4 C199.5,302.7 201.3,300.5 203.0,299.2 C204.7,297.9 206.6,298.8 208.1,296.6 C209.6,294.5 210.9,289.5 212.0,286.3 C213.1,283.1 213.8,276.9 214.6,277.3 C215.4,277.7 216.2,284.4 217.1,288.9 C217.9,293.4 218.6,302.2 219.7,304.4 C220.8,306.5 222.3,301.8 223.6,301.8 C224.9,301.8 226.0,304.2 227.5,304.4 C229.0,304.6 230.9,303.1 232.6,303.1 C234.3,303.1 236.3,305.0 237.8,304.4 C239.3,303.8 240.5,303.1 241.6,299.2 C242.7,295.3 243.3,286.8 244.2,281.2 C245.1,275.6 245.9,265.7 246.8,265.7 C247.7,265.7 248.5,275.6 249.4,281.2 C250.3,286.8 251.2,296.6 252.5,299.2 C253.8,301.8 255.5,296.8 257.1,296.6 C258.7,296.4 260.6,297.0 262.3,297.9 C264.0,298.8 265.5,300.3 267.4,301.8 C269.3,303.3 271.8,306.6 273.9,307.0 C276.0,307.4 278.1,305.0 280.3,304.4 C282.5,303.8 284.7,303.8 286.8,303.1 C288.9,302.5 291.3,301.1 293.2,300.5 C295.1,299.9 296.7,299.0 298.4,299.2 C300.1,299.4 301.5,301.4 303.2,301.8 C304.9,302.2 306.6,301.3 308.3,301.3 C310.0,301.3 312.0,301.1 313.5,301.8 C315.0,302.5 316.0,305.9 317.3,305.7 C318.6,305.5 319.9,301.8 321.2,300.5 C322.5,299.2 323.8,298.5 325.1,297.9 C326.4,297.2 327.7,297.2 329.0,296.6 C330.3,296.0 331.4,295.6 332.8,294.1 C334.2,292.6 335.7,287.2 337.2,287.6 C338.7,288.0 340.4,294.5 341.8,296.6 C343.2,298.8 344.2,299.6 345.7,300.5 C347.2,301.4 349.2,302.4 350.9,301.8 C352.6,301.2 354.5,298.5 356.0,296.6 C357.5,294.7 358.6,290.8 359.9,290.2 C361.2,289.6 362.3,292.6 363.8,292.8 C365.3,293.0 367.2,291.9 368.9,291.5 C370.6,291.1 372.4,289.6 374.1,290.2 C375.8,290.8 377.7,293.5 379.2,295.4 C380.7,297.3 381.8,300.5 383.1,301.8 C384.4,303.1 385.5,304.0 387.0,303.1 C388.5,302.2 390.4,299.0 392.1,296.6 C393.8,294.2 395.6,291.2 397.3,288.9 C399.0,286.5 400.8,282.9 402.5,282.5 C404.2,282.1 406.1,285.4 407.6,286.3 C409.1,287.2 410.0,286.5 411.5,287.6 C413.0,288.7 414.9,291.3 416.6,292.8 C418.3,294.3 420.4,294.7 421.8,296.6 C423.2,298.6 423.8,302.8 425.2,304.5 C426.6,306.2 428.6,306.2 430.3,307.1 C432.0,308.0 433.8,308.5 435.5,309.6 C437.2,310.7 439.0,312.2 440.7,313.5 C442.4,314.8 444.3,317.6 445.8,317.4 C447.3,317.2 448.2,314.3 449.7,312.2 C451.2,310.1 453.1,306.6 454.8,304.5 C456.5,302.4 458.3,300.4 460.0,299.3 C461.7,298.2 463.5,298.4 465.2,298.0 C466.9,297.6 468.6,297.1 470.3,296.7 C472.0,296.3 473.6,296.2 475.5,295.4 C477.4,294.5 480.1,291.2 482.0,291.6 C483.9,292.0 485.4,296.7 487.1,298.0 C488.8,299.3 490.6,298.7 492.3,299.3 C494.0,299.9 495.7,301.5 497.4,301.9 C499.1,302.3 500.9,302.3 502.6,301.9 C504.3,301.5 506.2,300.2 507.8,299.3 C509.4,298.4 511.3,297.1 512.0,296.7" fill="none" stroke="#4DBEEE" stroke-width="3.90" stroke-linejoin="round" stroke-linecap="round"/>
</g>
<rect x="47.60" y="174.00" width="464.40" height="166.00" class="fr"/>
<line x1="105.65" y1="174.00" x2="105.65" y2="179.00" class="tk"/>
<line x1="105.65" y1="340.00" x2="105.65" y2="335.00" class="tk"/>
<line x1="163.70" y1="174.00" x2="163.70" y2="179.00" class="tk"/>
<line x1="163.70" y1="340.00" x2="163.70" y2="335.00" class="tk"/>
<line x1="221.75" y1="174.00" x2="221.75" y2="179.00" class="tk"/>
<line x1="221.75" y1="340.00" x2="221.75" y2="335.00" class="tk"/>
<line x1="279.80" y1="174.00" x2="279.80" y2="179.00" class="tk"/>
<line x1="279.80" y1="340.00" x2="279.80" y2="335.00" class="tk"/>
<line x1="337.85" y1="174.00" x2="337.85" y2="179.00" class="tk"/>
<line x1="337.85" y1="340.00" x2="337.85" y2="335.00" class="tk"/>
<line x1="395.90" y1="174.00" x2="395.90" y2="179.00" class="tk"/>
<line x1="395.90" y1="340.00" x2="395.90" y2="335.00" class="tk"/>
<line x1="453.95" y1="174.00" x2="453.95" y2="179.00" class="tk"/>
<line x1="453.95" y1="340.00" x2="453.95" y2="335.00" class="tk"/>
<line x1="47.60" y1="207.20" x2="52.60" y2="207.20" class="tk"/>
<line x1="512.00" y1="207.20" x2="507.00" y2="207.20" class="tk"/>
<line x1="47.60" y1="248.70" x2="52.60" y2="248.70" class="tk"/>
<line x1="512.00" y1="248.70" x2="507.00" y2="248.70" class="tk"/>
<line x1="47.60" y1="290.20" x2="52.60" y2="290.20" class="tk"/>
<line x1="512.00" y1="290.20" x2="507.00" y2="290.20" class="tk"/>
<line x1="47.60" y1="331.70" x2="52.60" y2="331.70" class="tk"/>
<line x1="512.00" y1="331.70" x2="507.00" y2="331.70" class="tk"/>
<line x1="62.23" y1="350.00" x2="62.23" y2="511.70" class="gm"/>
<line x1="76.77" y1="350.00" x2="76.77" y2="511.70" class="gm"/>
<line x1="91.30" y1="350.00" x2="91.30" y2="511.70" class="gm"/>
<line x1="105.84" y1="350.00" x2="105.84" y2="511.70" class="gM"/>
<line x1="120.37" y1="350.00" x2="120.37" y2="511.70" class="gm"/>
<line x1="134.91" y1="350.00" x2="134.91" y2="511.70" class="gm"/>
<line x1="149.44" y1="350.00" x2="149.44" y2="511.70" class="gm"/>
<line x1="163.97" y1="350.00" x2="163.97" y2="511.70" class="gM"/>
<line x1="178.51" y1="350.00" x2="178.51" y2="511.70" class="gm"/>
<line x1="193.04" y1="350.00" x2="193.04" y2="511.70" class="gm"/>
<line x1="207.58" y1="350.00" x2="207.58" y2="511.70" class="gm"/>
<line x1="222.11" y1="350.00" x2="222.11" y2="511.70" class="gM"/>
<line x1="236.65" y1="350.00" x2="236.65" y2="511.70" class="gm"/>
<line x1="251.18" y1="350.00" x2="251.18" y2="511.70" class="gm"/>
<line x1="265.72" y1="350.00" x2="265.72" y2="511.70" class="gm"/>
<line x1="280.25" y1="350.00" x2="280.25" y2="511.70" class="gM"/>
<line x1="294.78" y1="350.00" x2="294.78" y2="511.70" class="gm"/>
<line x1="309.32" y1="350.00" x2="309.32" y2="511.70" class="gm"/>
<line x1="323.85" y1="350.00" x2="323.85" y2="511.70" class="gm"/>
<line x1="338.39" y1="350.00" x2="338.39" y2="511.70" class="gM"/>
<line x1="352.92" y1="350.00" x2="352.92" y2="511.70" class="gm"/>
<line x1="367.46" y1="350.00" x2="367.46" y2="511.70" class="gm"/>
<line x1="381.99" y1="350.00" x2="381.99" y2="511.70" class="gm"/>
<line x1="396.52" y1="350.00" x2="396.52" y2="511.70" class="gM"/>
<line x1="411.06" y1="350.00" x2="411.06" y2="511.70" class="gm"/>
<line x1="425.59" y1="350.00" x2="425.59" y2="511.70" class="gm"/>
<line x1="440.13" y1="350.00" x2="440.13" y2="511.70" class="gm"/>
<line x1="454.66" y1="350.00" x2="454.66" y2="511.70" class="gM"/>
<line x1="469.20" y1="350.00" x2="469.20" y2="511.70" class="gm"/>
<line x1="483.73" y1="350.00" x2="483.73" y2="511.70" class="gm"/>
<line x1="498.27" y1="350.00" x2="498.27" y2="511.70" class="gm"/>
<line x1="47.70" y1="495.53" x2="512.80" y2="495.53" class="gm"/>
<line x1="47.70" y1="479.36" x2="512.80" y2="479.36" class="gM"/>
<line x1="47.70" y1="463.19" x2="512.80" y2="463.19" class="gm"/>
<line x1="47.70" y1="447.02" x2="512.80" y2="447.02" class="gM"/>
<line x1="47.70" y1="430.85" x2="512.80" y2="430.85" class="gm"/>
<line x1="47.70" y1="414.68" x2="512.80" y2="414.68" class="gM"/>
<line x1="47.70" y1="398.51" x2="512.80" y2="398.51" class="gm"/>
<line x1="47.70" y1="382.34" x2="512.80" y2="382.34" class="gM"/>
<line x1="47.70" y1="366.17" x2="512.80" y2="366.17" class="gm"/>
<g clip-path="url(#cc)">
<path d="M47.7,458.0 C48.5,458.6 51.1,460.7 52.2,461.7 C53.4,462.7 53.8,462.7 54.6,464.1 C55.4,465.5 56.3,470.1 57.1,470.3 C57.9,470.5 58.6,465.6 59.6,465.4 C60.6,465.2 61.9,467.9 63.3,469.1 C64.7,470.3 66.8,472.6 68.2,472.8 C69.6,473.0 70.7,472.2 71.9,470.3 C73.1,468.4 74.4,464.6 75.6,461.7 C76.8,458.8 78.3,453.8 79.3,453.0 C80.3,452.2 80.8,455.2 81.8,456.7 C82.8,458.1 84.3,459.8 85.5,461.7 C86.7,463.6 87.8,467.8 89.2,467.8 C90.6,467.8 92.7,463.8 94.1,461.7 C95.5,459.6 96.6,455.7 97.8,455.5 C99.0,455.3 100.3,457.3 101.5,460.4 C102.7,463.5 103.7,470.1 104.7,474.0 C105.7,477.9 106.6,482.7 107.7,483.9 C108.8,485.1 110.2,483.0 111.4,481.4 C112.6,479.8 113.7,475.6 115.1,474.0 C116.5,472.4 118.6,470.7 120.0,471.5 C121.4,472.3 122.5,478.9 123.7,478.9 C124.9,478.9 126.2,472.9 127.4,471.5 C128.6,470.1 129.9,469.9 131.1,470.3 C132.3,470.7 133.6,474.2 134.8,474.0 C136.0,473.8 137.3,468.7 138.5,469.1 C139.7,469.5 141.0,473.6 142.2,476.5 C143.4,479.4 144.7,484.4 145.9,486.3 C147.1,488.2 148.2,486.6 149.6,487.6 C151.0,488.6 153.1,493.1 154.5,492.5 C155.9,491.9 157.2,487.4 158.2,483.9 C159.2,480.4 159.9,475.6 160.7,471.5 C161.5,467.4 162.2,459.6 163.2,459.2 C164.2,458.8 165.7,465.2 166.9,469.1 C168.1,473.0 168.9,480.1 170.6,482.6 C172.3,485.1 175.2,484.1 176.9,484.0 C178.6,483.9 179.4,483.1 180.6,482.2 C181.8,481.3 183.1,479.5 184.3,478.5 C185.5,477.5 186.8,477.5 188.0,476.1 C189.2,474.7 190.5,472.6 191.7,469.9 C192.9,467.2 194.2,463.9 195.4,460.0 C196.6,456.1 197.9,450.2 199.1,446.5 C200.3,442.8 201.6,439.7 202.8,437.8 C204.0,435.9 205.3,435.2 206.5,435.4 C207.7,435.6 209.0,437.9 210.2,439.1 C211.4,440.3 212.7,442.0 213.9,442.8 C215.1,443.6 216.4,443.0 217.6,444.0 C218.8,445.0 220.2,447.2 221.3,448.9 C222.5,450.5 223.5,453.7 224.5,453.9 C225.5,454.1 226.4,451.6 227.5,450.2 C228.6,448.8 230.0,445.6 231.2,445.2 C232.4,444.8 233.7,446.9 234.9,447.7 C236.1,448.5 237.4,450.8 238.6,450.2 C239.8,449.6 241.1,446.3 242.3,444.0 C243.5,441.7 244.8,437.0 246.0,436.6 C247.2,436.2 248.5,440.1 249.7,441.5 C250.9,442.9 252.2,445.4 253.4,445.2 C254.6,445.0 255.9,443.2 257.1,440.3 C258.3,437.4 259.6,430.9 260.8,428.0 C262.0,425.1 263.3,422.6 264.5,423.0 C265.7,423.4 267.0,428.5 268.2,430.4 C269.4,432.2 270.7,434.3 271.9,434.1 C273.1,433.9 274.4,430.8 275.6,429.2 C276.8,427.6 278.1,424.3 279.3,424.3 C280.5,424.3 281.8,427.8 283.0,429.2 C284.2,430.6 285.5,433.5 286.7,432.9 C287.9,432.3 289.2,426.9 290.4,425.5 C291.6,424.1 292.9,423.9 294.1,424.3 C295.3,424.7 296.5,428.0 297.8,428.0 C299.1,428.0 300.4,426.7 301.7,424.2 C303.0,421.7 304.2,416.0 305.4,413.1 C306.6,410.2 307.9,407.8 309.1,406.9 C310.3,405.9 311.6,406.8 312.8,407.4 C314.0,408.0 315.3,409.7 316.5,410.6 C317.7,411.6 319.0,411.9 320.2,413.1 C321.4,414.3 322.7,415.9 323.9,418.0 C325.1,420.1 326.4,422.3 327.6,425.4 C328.8,428.5 330.1,433.6 331.3,436.5 C332.5,439.4 333.8,441.7 335.0,442.7 C336.2,443.7 337.5,443.1 338.7,442.7 C339.9,442.3 341.2,440.4 342.4,440.2 C343.6,440.0 344.9,441.1 346.1,441.5 C347.3,441.9 348.4,442.3 349.8,442.7 C351.2,443.1 353.1,443.3 354.7,443.9 C356.3,444.5 358.0,445.8 359.7,446.4 C361.4,447.0 363.0,447.6 364.6,447.6 C366.2,447.6 368.1,446.8 369.5,446.4 C370.9,446.0 372.0,445.0 373.2,445.2 C374.4,445.4 375.7,446.6 376.9,447.6 C378.1,448.6 379.2,450.8 380.6,451.3 C382.1,451.8 384.0,451.0 385.6,450.8 C387.2,450.6 388.9,450.2 390.5,450.1 C392.1,450.0 393.8,449.7 395.4,450.1 C397.0,450.5 398.8,452.4 400.4,452.6 C402.0,452.8 403.7,451.5 405.3,451.3 C406.9,451.1 408.6,450.9 410.2,451.3 C411.8,451.7 413.5,453.2 415.2,453.8 C416.9,454.4 418.7,455.1 420.1,455.0 C421.5,454.9 422.4,453.2 423.6,453.0 C424.8,452.8 426.0,453.4 427.2,453.6 C428.4,453.9 429.6,454.2 430.8,454.5 C432.0,454.8 433.2,454.9 434.4,455.4 C435.6,455.8 437.2,456.4 438.0,457.2 C438.8,457.9 438.3,460.5 438.9,459.9 C439.5,459.3 440.7,454.4 441.6,453.6 C442.5,452.9 443.4,455.4 444.3,455.4 C445.2,455.4 446.1,453.0 447.0,453.6 C447.9,454.2 448.8,459.1 449.7,459.0 C450.6,458.9 451.5,454.6 452.4,452.7 C453.3,450.8 454.3,448.2 455.2,447.3 C456.1,446.4 457.0,446.1 457.9,447.3 C458.8,448.5 459.7,451.5 460.6,454.5 C461.5,457.5 462.2,462.9 463.3,465.3 C464.4,467.7 465.7,467.7 466.9,468.9 C468.1,470.1 469.3,471.1 470.5,472.5 C471.7,473.9 472.9,475.8 474.1,477.0 C475.3,478.2 476.5,479.1 477.7,479.7 C478.9,480.3 480.2,481.5 481.3,480.6 C482.4,479.7 483.1,476.4 484.0,474.3 C484.9,472.2 485.8,469.8 486.7,468.0 C487.6,466.2 488.5,464.1 489.4,463.5 C490.3,462.9 491.2,463.8 492.1,464.4 C493.0,465.0 493.9,465.8 494.8,467.1 C495.7,468.5 496.6,470.5 497.5,472.5 C498.4,474.5 499.3,478.4 500.2,478.9 C501.1,479.3 502.0,477.1 502.9,475.2 C503.8,473.3 504.7,470.2 505.6,467.7 C506.5,465.2 507.5,461.6 508.3,460.4 C509.1,459.2 509.8,459.6 510.5,460.5 C511.2,461.4 512.4,465.1 512.8,466.0" fill="none" stroke="#000000" stroke-width="3.90" stroke-linejoin="round" stroke-linecap="round"/>
<path d="M47.7,456.7 C48.2,456.5 49.8,456.1 50.9,455.5 C52.0,454.9 53.6,454.0 54.6,453.0 C55.6,452.0 56.1,450.1 57.1,449.3 C58.1,448.5 59.6,446.7 60.8,448.1 C62.0,449.6 63.3,457.2 64.5,458.0 C65.7,458.8 67.2,455.3 68.2,453.0 C69.2,450.7 69.9,445.0 70.7,444.4 C71.5,443.8 72.3,447.4 73.1,449.3 C73.9,451.2 74.6,454.3 75.6,455.5 C76.6,456.7 78.3,455.1 79.3,456.7 C80.3,458.3 80.8,462.1 81.8,465.4 C82.8,468.7 84.0,477.1 85.0,476.5 C86.0,475.9 87.0,462.9 87.9,461.7 C88.8,460.5 89.4,466.6 90.4,469.1 C91.4,471.6 92.9,472.8 94.1,476.5 C95.2,480.2 96.3,487.6 97.3,491.3 C98.2,495.0 99.0,500.8 99.8,498.7 C100.6,496.6 101.4,485.5 102.2,478.9 C103.0,472.3 103.8,460.0 104.7,459.2 C105.6,458.4 106.8,470.3 107.7,474.0 C108.6,477.7 109.3,482.0 110.1,481.4 C110.9,480.8 111.6,474.0 112.6,470.3 C113.6,466.6 115.1,458.6 116.3,459.2 C117.5,459.8 118.5,473.2 119.5,474.0 C120.5,474.8 121.4,465.3 122.5,464.1 C123.6,462.9 125.2,466.6 126.2,466.6 C127.2,466.6 127.6,463.1 128.6,464.1 C129.6,465.1 131.1,472.2 132.3,472.8 C133.5,473.4 134.8,468.0 136.0,467.8 C137.2,467.6 138.5,469.2 139.7,471.5 C140.9,473.8 142.4,478.9 143.4,481.4 C144.4,483.9 145.1,487.7 145.9,486.3 C146.7,484.9 147.6,476.7 148.4,472.8 C149.2,468.9 149.8,464.8 150.8,462.9 C151.8,461.0 153.3,460.7 154.5,461.7 C155.7,462.7 157.0,470.3 158.2,469.1 C159.3,467.9 160.4,458.4 161.4,454.3 C162.4,450.2 163.5,444.4 164.4,444.4 C165.3,444.4 166.1,451.0 166.9,454.3 C167.7,457.6 168.5,462.5 169.3,464.1 C170.2,465.7 171.1,465.4 172.0,463.7 C172.9,462.0 173.5,457.6 174.5,453.9 C175.5,450.2 177.0,443.1 178.2,441.5 C179.4,439.9 180.7,445.2 181.9,444.0 C183.1,442.8 184.4,436.6 185.6,434.1 C186.8,431.6 188.3,429.8 189.3,429.2 C190.3,428.6 190.9,432.0 191.7,430.4 C192.5,428.8 193.2,422.8 194.2,419.3 C195.2,415.8 196.7,412.0 197.9,409.5 C199.1,407.0 200.6,406.8 201.6,404.5 C202.6,402.2 203.3,397.1 204.1,395.9 C204.9,394.7 205.7,395.9 206.5,397.1 C207.3,398.3 208.2,403.1 209.0,403.3 C209.8,403.5 210.5,399.8 211.5,398.4 C212.5,397.0 214.2,396.8 215.2,394.7 C216.2,392.6 216.8,388.5 217.6,386.0 C218.4,383.5 219.1,379.7 220.1,379.9 C221.1,380.1 222.6,385.9 223.8,387.3 C225.0,388.7 226.3,388.1 227.5,388.5 C228.7,388.9 230.0,388.9 231.2,389.7 C232.4,390.5 233.7,393.0 234.9,393.4 C236.1,393.8 237.4,392.6 238.6,392.2 C239.8,391.8 241.1,392.0 242.3,391.0 C243.5,390.0 244.8,386.4 246.0,386.0 C247.2,385.6 248.5,388.5 249.7,388.5 C250.9,388.5 252.2,386.0 253.4,386.0 C254.6,386.0 255.9,387.3 257.1,388.5 C258.3,389.7 259.6,393.2 260.8,393.4 C262.0,393.6 263.3,390.9 264.5,389.7 C265.7,388.5 267.0,386.8 268.2,386.0 C269.4,385.2 270.7,384.7 271.9,384.8 C273.1,384.9 274.2,387.0 275.6,386.8 C277.0,386.6 278.9,384.4 280.5,383.6 C282.1,382.9 283.9,382.5 285.5,382.3 C287.1,382.1 289.0,381.3 290.4,382.3 C291.8,383.3 292.8,387.5 294.1,388.5 C295.4,389.5 296.7,389.0 298.0,388.4 C299.3,387.8 300.5,386.1 301.7,384.7 C302.9,383.3 304.2,380.9 305.4,379.8 C306.6,378.7 307.9,377.6 309.1,377.8 C310.3,378.0 311.6,378.6 312.8,381.0 C314.0,383.4 315.3,391.5 316.5,392.1 C317.7,392.7 319.0,386.3 320.2,384.7 C321.4,383.1 322.7,382.3 323.9,382.3 C325.1,382.3 326.4,382.9 327.6,384.7 C328.8,386.5 330.1,392.6 331.3,393.4 C332.5,394.2 333.8,390.5 335.0,389.7 C336.2,388.9 337.5,389.4 338.7,388.4 C339.9,387.4 341.2,383.7 342.4,383.5 C343.6,383.3 344.9,388.2 346.1,387.2 C347.3,386.2 348.6,377.5 349.8,377.3 C351.0,377.1 352.3,382.9 353.5,386.0 C354.7,389.1 356.0,392.9 357.2,395.8 C358.4,398.7 359.7,402.2 360.9,403.2 C362.1,404.2 363.4,402.6 364.6,402.0 C365.8,401.4 367.1,400.5 368.3,399.5 C369.5,398.5 370.8,394.2 372.0,395.8 C373.2,397.4 374.6,404.5 375.7,409.4 C376.8,414.3 377.9,423.8 378.9,425.4 C379.9,427.0 380.8,419.5 381.9,419.3 C383.0,419.1 384.4,424.8 385.6,424.2 C386.8,423.6 388.3,417.5 389.3,415.6 C390.3,413.8 390.7,412.1 391.7,413.1 C392.7,414.1 394.2,419.9 395.4,421.7 C396.6,423.5 397.9,422.5 399.1,424.2 C400.3,425.9 401.6,431.2 402.8,431.6 C404.0,432.0 405.3,427.3 406.5,426.7 C407.7,426.1 409.0,427.1 410.2,427.9 C411.4,428.7 412.7,433.9 413.9,431.6 C415.1,429.3 416.6,416.5 417.6,414.3 C418.6,412.1 419.1,417.3 420.0,418.4 C420.9,419.5 421.8,419.6 422.7,421.1 C423.6,422.6 424.3,425.2 425.4,427.5 C426.4,429.8 427.8,433.3 429.0,434.7 C430.2,436.1 431.4,435.8 432.6,435.6 C433.8,435.5 435.1,434.2 436.2,433.8 C437.2,433.4 438.0,433.6 438.9,432.9 C439.8,432.1 440.6,430.4 441.6,429.3 C442.7,428.2 444.1,427.1 445.2,426.5 C446.2,425.9 447.0,425.0 447.9,425.6 C448.8,426.2 449.7,428.5 450.6,430.2 C451.5,431.9 452.5,434.2 453.4,435.6 C454.3,437.0 455.2,438.9 456.1,438.3 C457.0,437.7 457.9,432.3 458.8,432.0 C459.7,431.7 460.6,434.6 461.5,436.5 C462.4,438.4 463.3,442.1 464.2,443.7 C465.1,445.3 466.0,445.8 466.9,446.4 C467.8,447.0 468.7,446.1 469.6,447.3 C470.5,448.5 471.4,452.4 472.3,453.6 C473.2,454.8 474.1,455.2 475.0,454.5 C475.9,453.8 476.8,451.2 477.7,449.1 C478.6,447.0 479.6,443.8 480.4,441.9 C481.1,439.9 481.6,437.1 482.2,437.4 C482.8,437.7 483.2,440.8 484.0,443.7 C484.8,446.6 485.8,451.5 486.7,454.5 C487.6,457.5 488.5,460.8 489.4,461.7 C490.3,462.6 491.2,460.5 492.1,459.9 C493.0,459.3 493.9,458.6 494.8,458.1 C495.7,457.7 496.8,458.7 497.5,457.2 C498.2,455.7 498.7,451.2 499.3,449.1 C499.9,447.0 500.5,444.6 501.1,444.6 C501.7,444.6 502.3,445.4 502.9,449.1 C503.5,452.9 504.1,463.8 504.7,467.1 C505.3,470.4 505.8,469.3 506.5,468.9 C507.2,468.5 508.4,465.1 509.2,464.5 C509.9,463.9 510.4,464.8 511.0,465.4 C511.6,466.0 512.5,467.7 512.8,468.1" fill="none" stroke="#ff0000" stroke-width="3.90" stroke-linejoin="round" stroke-linecap="round"/>
</g>
<line x1="381.40" y1="371.00" x2="408.70" y2="371.00" stroke="#333" stroke-width="1.30"/>
<circle cx="395.50" cy="371.00" r="2.00" fill="#000"/>
<line x1="381.40" y1="386.50" x2="408.70" y2="386.50" stroke="#e8202a" stroke-width="1.30"/>
<circle cx="395.50" cy="386.50" r="2.00" fill="#f00"/>
<rect x="47.70" y="350.00" width="465.10" height="161.70" class="fr"/>
<line x1="105.84" y1="350.00" x2="105.84" y2="355.00" class="tk"/>
<line x1="105.84" y1="511.70" x2="105.84" y2="506.70" class="tk"/>
<line x1="163.97" y1="350.00" x2="163.97" y2="355.00" class="tk"/>
<line x1="163.97" y1="511.70" x2="163.97" y2="506.70" class="tk"/>
<line x1="222.11" y1="350.00" x2="222.11" y2="355.00" class="tk"/>
<line x1="222.11" y1="511.70" x2="222.11" y2="506.70" class="tk"/>
<line x1="280.25" y1="350.00" x2="280.25" y2="355.00" class="tk"/>
<line x1="280.25" y1="511.70" x2="280.25" y2="506.70" class="tk"/>
<line x1="338.39" y1="350.00" x2="338.39" y2="355.00" class="tk"/>
<line x1="338.39" y1="511.70" x2="338.39" y2="506.70" class="tk"/>
<line x1="396.52" y1="350.00" x2="396.52" y2="355.00" class="tk"/>
<line x1="396.52" y1="511.70" x2="396.52" y2="506.70" class="tk"/>
<line x1="454.66" y1="350.00" x2="454.66" y2="355.00" class="tk"/>
<line x1="454.66" y1="511.70" x2="454.66" y2="506.70" class="tk"/>
<line x1="47.70" y1="350.00" x2="52.70" y2="350.00" class="tk"/>
<line x1="512.80" y1="350.00" x2="507.80" y2="350.00" class="tk"/>
<line x1="47.70" y1="382.34" x2="52.70" y2="382.34" class="tk"/>
<line x1="512.80" y1="382.34" x2="507.80" y2="382.34" class="tk"/>
<line x1="47.70" y1="414.68" x2="52.70" y2="414.68" class="tk"/>
<line x1="512.80" y1="414.68" x2="507.80" y2="414.68" class="tk"/>
<line x1="47.70" y1="447.02" x2="52.70" y2="447.02" class="tk"/>
<line x1="512.80" y1="447.02" x2="507.80" y2="447.02" class="tk"/>
<line x1="47.70" y1="479.36" x2="52.70" y2="479.36" class="tk"/>
<line x1="512.80" y1="479.36" x2="507.80" y2="479.36" class="tk"/>
<line x1="47.70" y1="511.70" x2="52.70" y2="511.70" class="tk"/>
<line x1="512.80" y1="511.70" x2="507.80" y2="511.70" class="tk"/>
<line x1="47.80" y1="441.00" x2="47.80" y2="460.00" stroke="#000" stroke-width="1.30"/>
<circle cx="47.80" cy="441.50" r="1.90" fill="#000"/>
<line x1="512.70" y1="466.00" x2="512.70" y2="477.00" stroke="#000" stroke-width="1.30"/>
<circle cx="512.70" cy="476.80" r="1.90" fill="#000"/>
</g>
<g>
<text transform="translate(115.50,24.05) scale(0.910,1)" font-size="9.50" class="lg">42m</text>
<text transform="translate(115.50,35.50) scale(0.910,1)" font-size="9.50" class="lg">140m</text>
<text transform="translate(115.50,46.95) scale(0.910,1)" font-size="9.50" class="lg">281m</text>
<text transform="translate(115.50,58.40) scale(0.910,1)" font-size="9.50" class="lg">422m</text>
<text transform="translate(115.50,69.85) scale(0.910,1)" font-size="9.50" class="lg">563m</text>
<text transform="translate(115.50,81.30) scale(0.910,1)" font-size="9.50" class="lg">704m</text>
<text transform="translate(45.30,41.36) scale(0.930,1)" font-size="10.00" text-anchor="end">−15</text>
<text transform="translate(45.30,81.68) scale(0.930,1)" font-size="10.00" text-anchor="end">−15.5</text>
<text transform="translate(45.30,122.01) scale(0.930,1)" font-size="10.00" text-anchor="end">−16</text>
<text transform="translate(45.30,162.33) scale(0.930,1)" font-size="10.00" text-anchor="end">−16.5</text>
<text transform="translate(15.80,85.10) rotate(-90) scale(1.200,1)" font-size="9.20" text-anchor="middle">lgCn<tspan font-size="6.90" dy="-5.52">2</tspan><tspan dy="5.52"> (m</tspan><tspan font-size="6.90" dy="-5.52">-2/3</tspan><tspan dy="5.52">)</tspan></text>
<text transform="translate(246.50,22.90) scale(1.120,1)" font-size="10.80" text-anchor="middle" class="ann">(a)</text>
<text transform="translate(470.90,33.20) scale(1.030,1)" font-size="11.80" text-anchor="middle" class="ann">05-21</text>
<text transform="translate(143.20,183.15) scale(0.910,1)" font-size="9.50" class="lg">42m</text>
<text transform="translate(143.20,194.67) scale(0.910,1)" font-size="9.50" class="lg">140m</text>
<text transform="translate(143.20,206.19) scale(0.910,1)" font-size="9.50" class="lg">422m</text>
<text transform="translate(143.20,217.71) scale(0.910,1)" font-size="9.50" class="lg">1127m</text>
<text transform="translate(143.20,229.23) scale(0.910,1)" font-size="9.50" class="lg">1691m</text>
<text transform="translate(143.20,240.75) scale(0.910,1)" font-size="9.50" class="lg">2055m</text>
<text transform="translate(43.30,210.80) scale(0.930,1)" font-size="10.00" text-anchor="end">−15</text>
<text transform="translate(43.30,252.30) scale(0.930,1)" font-size="10.00" text-anchor="end">−15.5</text>
<text transform="translate(43.30,293.80) scale(0.930,1)" font-size="10.00" text-anchor="end">−16</text>
<text transform="translate(43.30,335.30) scale(0.930,1)" font-size="10.00" text-anchor="end">−16.5</text>
<text transform="translate(15.20,256.30) rotate(-90) scale(1.200,1)" font-size="9.20" text-anchor="middle">lgCn<tspan font-size="6.90" dy="-5.52">2</tspan><tspan dy="5.52"> (m</tspan><tspan font-size="6.90" dy="-5.52">-2/3</tspan><tspan dy="5.52">)</tspan></text>
<text transform="translate(244.70,190.20) scale(1.120,1)" font-size="10.80" text-anchor="middle" class="ann">(b)</text>
<text transform="translate(480.00,192.70) scale(1.080,1)" font-size="11.80" text-anchor="middle" class="ann">05-25</text>
<text transform="translate(412.40,376.30) scale(0.772,1)" font-size="10.50" class="lt">surface Cn<tspan font-size="7.88" dy="-4.41">2</tspan><tspan dy="4.41"> on May 21</tspan></text>
<text transform="translate(412.40,391.80) scale(0.772,1)" font-size="10.50" class="lt">surface Cn<tspan font-size="7.88" dy="-4.41">2</tspan><tspan dy="4.41"> on May 25</tspan></text>
<text transform="translate(43.10,353.70) scale(0.800,1)" font-size="10.40" text-anchor="end">−12</text>
<text transform="translate(43.10,386.04) scale(0.800,1)" font-size="10.40" text-anchor="end">−13</text>
<text transform="translate(43.10,418.38) scale(0.800,1)" font-size="10.40" text-anchor="end">−14</text>
<text transform="translate(43.10,450.72) scale(0.800,1)" font-size="10.40" text-anchor="end">−15</text>
<text transform="translate(43.10,483.06) scale(0.800,1)" font-size="10.40" text-anchor="end">−16</text>
<text transform="translate(43.10,515.40) scale(0.800,1)" font-size="10.40" text-anchor="end">−17</text>
<text transform="translate(47.70,527.80) scale(0.830,1)" font-size="10.60" text-anchor="middle" class="lt">00:00</text>
<text transform="translate(105.84,527.80) scale(0.830,1)" font-size="10.60" text-anchor="middle" class="lt">3:00</text>
<text transform="translate(163.97,527.80) scale(0.830,1)" font-size="10.60" text-anchor="middle" class="lt">6:00</text>
<text transform="translate(222.11,527.80) scale(0.830,1)" font-size="10.60" text-anchor="middle" class="lt">9:00</text>
<text transform="translate(280.25,527.80) scale(0.830,1)" font-size="10.60" text-anchor="middle" class="lt">12:00</text>
<text transform="translate(338.39,527.80) scale(0.830,1)" font-size="10.60" text-anchor="middle" class="lt">15:00</text>
<text transform="translate(396.52,527.80) scale(0.830,1)" font-size="10.60" text-anchor="middle" class="lt">18:00</text>
<text transform="translate(454.66,527.80) scale(0.830,1)" font-size="10.60" text-anchor="middle" class="lt">21:00</text>
<text transform="translate(512.80,527.80) scale(0.830,1)" font-size="10.60" text-anchor="middle" class="lt">24:00</text>
<text transform="translate(280.00,544.20) scale(0.900,1)" font-size="11.00" text-anchor="middle" class="lt">time</text>
<text transform="translate(25.00,430.70) rotate(-90) scale(1.340,1)" font-size="9.60" text-anchor="middle">lgCn<tspan font-size="7.20" dy="-5.76">2</tspan><tspan dy="5.76"> (m</tspan><tspan font-size="7.20" dy="-5.76">-2/3</tspan><tspan dy="5.76">)</tspan></text>
<text transform="translate(239.60,368.20) scale(1.120,1)" font-size="10.80" text-anchor="middle" class="ann">(c)</text>
</g></svg>
</body></html>
